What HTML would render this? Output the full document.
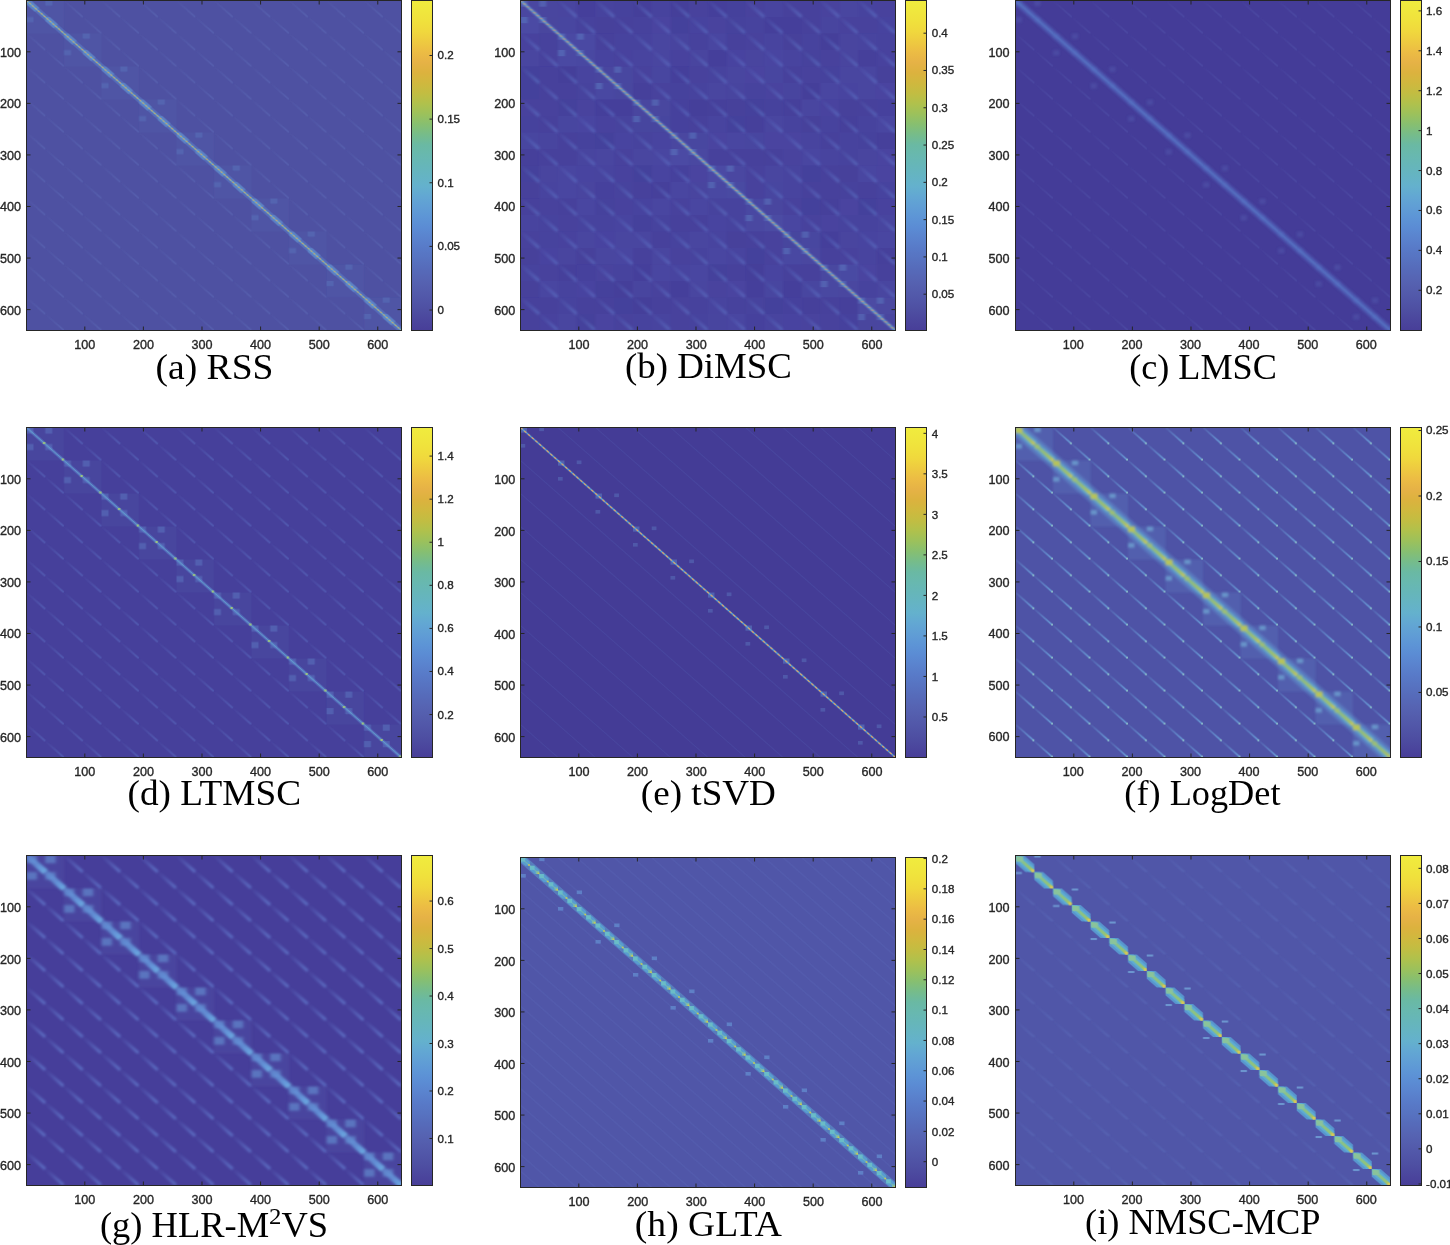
<!DOCTYPE html>
<html><head><meta charset="utf-8"><title>Affinity matrices</title><style>
html,body{margin:0;padding:0;background:#fff}
body{width:1450px;height:1245px;position:relative;overflow:hidden}
body>svg{position:absolute;overflow:visible}
svg svg{overflow:hidden}
.tk{font-family:"Liberation Sans",Arial,Helvetica,sans-serif;font-size:12.6px;fill:#262626;stroke:#262626;stroke-width:0.35px}
.cb{font-size:11.6px}
.cap{font-family:"Liberation Serif","Times New Roman",serif;font-size:35.4px;fill:#000}
</style></head><body>
<svg width="0" height="0" style="position:absolute"><defs><linearGradient id="cbg" x1="0" y1="1" x2="0" y2="0"><stop offset="0.0000" stop-color="#483e98"/><stop offset="0.0312" stop-color="#4b469d"/><stop offset="0.0625" stop-color="#4e4fa2"/><stop offset="0.0938" stop-color="#5156a8"/><stop offset="0.1250" stop-color="#545dad"/><stop offset="0.1562" stop-color="#5664b3"/><stop offset="0.1875" stop-color="#566bba"/><stop offset="0.2188" stop-color="#5773c1"/><stop offset="0.2500" stop-color="#587ac8"/><stop offset="0.2812" stop-color="#5a83ce"/><stop offset="0.3125" stop-color="#5b8cd4"/><stop offset="0.3438" stop-color="#5d95d6"/><stop offset="0.3750" stop-color="#609ed5"/><stop offset="0.4062" stop-color="#62a7d3"/><stop offset="0.4375" stop-color="#64b1cd"/><stop offset="0.4688" stop-color="#65b4c3"/><stop offset="0.5000" stop-color="#66b6b9"/><stop offset="0.5312" stop-color="#68b8af"/><stop offset="0.5625" stop-color="#6ab9a3"/><stop offset="0.5938" stop-color="#76bc8a"/><stop offset="0.6250" stop-color="#87bf70"/><stop offset="0.6562" stop-color="#9cc15b"/><stop offset="0.6875" stop-color="#b0c14c"/><stop offset="0.7188" stop-color="#c2bd42"/><stop offset="0.7500" stop-color="#d0b83e"/><stop offset="0.7812" stop-color="#dcb23e"/><stop offset="0.8125" stop-color="#e6b246"/><stop offset="0.8438" stop-color="#ecbc44"/><stop offset="0.8750" stop-color="#eeca40"/><stop offset="0.9062" stop-color="#f0d83d"/><stop offset="0.9375" stop-color="#f0e13c"/><stop offset="0.9688" stop-color="#f0e73d"/><stop offset="1.0000" stop-color="#f0ec3e"/></linearGradient></defs></svg>

<svg style="left:26px;top:0px" width="377" height="332">
<svg x="0.5" y="0.5" width="375.0" height="330.0" viewBox="0 0 640 640" preserveAspectRatio="none">
<defs><linearGradient id="sga" x1="0" y1="0" x2="32" y2="32" gradientUnits="userSpaceOnUse" spreadMethod="repeat"><stop offset="0" stop-color="#6e8cd2" stop-opacity="0.0"/><stop offset="0.85" stop-color="#6e8cd2" stop-opacity="0.25"/><stop offset="1" stop-color="#6e8cd2" stop-opacity="0.25"/></linearGradient><pattern id="spa" width="64" height="64" patternUnits="userSpaceOnUse"><path d="M-8 -8L72 72" stroke="url(#sga)" stroke-width="2.5" fill="none"/></pattern><filter id="sbla" x="-2%" y="-2%" width="104%" height="104%"><feGaussianBlur stdDeviation="1.0"/></filter><g id="bka"><rect width="64" height="64" fill="#6a8ad0" fill-opacity="0.07"/><rect x="32" y="0" width="12" height="10" fill="#6aa0dc" fill-opacity="0.22"/><rect x="0" y="32" width="12" height="10" fill="#6aa0dc" fill-opacity="0.22"/></g><g id="sba"><polygon points="0,0 8,0 22,14 14,22 0,8" fill="#6aa8dc" fill-opacity="0.35"/></g><filter id="bla" x="-2%" y="-2%" width="104%" height="104%"><feGaussianBlur stdDeviation="1.3"/></filter></defs><rect width="640" height="640" fill="#4e51a2"/><g filter="url(#sbla)"><rect width="640" height="640" fill="url(#spa)"/></g><g filter="url(#bla)"><use href="#bka" x="0" y="0"/>
<use href="#bka" x="64" y="64"/>
<use href="#bka" x="128" y="128"/>
<use href="#bka" x="192" y="192"/>
<use href="#bka" x="256" y="256"/>
<use href="#bka" x="320" y="320"/>
<use href="#bka" x="384" y="384"/>
<use href="#bka" x="448" y="448"/>
<use href="#bka" x="512" y="512"/>
<use href="#bka" x="576" y="576"/>
<path d="M0 0L640 640" stroke="#5f8cd2" stroke-opacity="0.45" stroke-width="10" fill="none"/>
<path d="M0 0L640 640" stroke="#78bebe" stroke-opacity="1" stroke-width="1.8" fill="none"/>
<use href="#sba" x="0" y="0"/>
<use href="#sba" x="32" y="32"/>
<use href="#sba" x="64" y="64"/>
<use href="#sba" x="96" y="96"/>
<use href="#sba" x="128" y="128"/>
<use href="#sba" x="160" y="160"/>
<use href="#sba" x="192" y="192"/>
<use href="#sba" x="224" y="224"/>
<use href="#sba" x="256" y="256"/>
<use href="#sba" x="288" y="288"/>
<use href="#sba" x="320" y="320"/>
<use href="#sba" x="352" y="352"/>
<use href="#sba" x="384" y="384"/>
<use href="#sba" x="416" y="416"/>
<use href="#sba" x="448" y="448"/>
<use href="#sba" x="480" y="480"/>
<use href="#sba" x="512" y="512"/>
<use href="#sba" x="544" y="544"/>
<use href="#sba" x="576" y="576"/>
<use href="#sba" x="608" y="608"/>
<path d="M0 0L640 640" stroke="#e1aa50" stroke-opacity="1" stroke-width="1.8" stroke-dasharray="3 4" fill="none"/></g>
</svg>
<rect x="0.5" y="0.5" width="375.0" height="330.0" fill="none" stroke="#262626" stroke-width="1"/>
<path d="M58.80 330.5v-4M58.80 0.5v4M0.5 51.80h4M375.5 51.80h-4M117.39 330.5v-4M117.39 0.5v4M0.5 103.37h4M375.5 103.37h-4M175.99 330.5v-4M175.99 0.5v4M0.5 154.93h4M375.5 154.93h-4M234.58 330.5v-4M234.58 0.5v4M0.5 206.49h4M375.5 206.49h-4M293.18 330.5v-4M293.18 0.5v4M0.5 258.05h4M375.5 258.05h-4M351.77 330.5v-4M351.77 0.5v4M0.5 309.62h4M375.5 309.62h-4" stroke="#262626" stroke-width="1" fill="none"/>
</svg>
<svg style="left:411.0px;top:0px" width="23" height="332">
<rect x="0.5" y="0.5" width="21.0" height="330.0" fill="url(#cbg)" stroke="#262626" stroke-width="1"/>
<path d="M21.5 310.02h-3M21.5 246.39h-3M21.5 182.75h-3M21.5 119.12h-3M21.5 55.49h-3" stroke="#262626" stroke-width="1" fill="none"/>
</svg>
<svg style="left:0;top:0" width="1450" height="1245">
<text class="tk" x="21.00" y="56.80" text-anchor="end">100</text>
<text class="tk" x="84.80" y="349.00" text-anchor="middle">100</text>
<text class="tk" x="21.00" y="108.37" text-anchor="end">200</text>
<text class="tk" x="143.39" y="349.00" text-anchor="middle">200</text>
<text class="tk" x="21.00" y="159.93" text-anchor="end">300</text>
<text class="tk" x="201.99" y="349.00" text-anchor="middle">300</text>
<text class="tk" x="21.00" y="211.49" text-anchor="end">400</text>
<text class="tk" x="260.58" y="349.00" text-anchor="middle">400</text>
<text class="tk" x="21.00" y="263.05" text-anchor="end">500</text>
<text class="tk" x="319.18" y="349.00" text-anchor="middle">500</text>
<text class="tk" x="21.00" y="314.62" text-anchor="end">600</text>
<text class="tk" x="377.77" y="349.00" text-anchor="middle">600</text>
<text class="tk cb" x="437.50" y="314.02">0</text>
<text class="tk cb" x="437.50" y="250.39">0.05</text>
<text class="tk cb" x="437.50" y="186.75">0.1</text>
<text class="tk cb" x="437.50" y="123.12">0.15</text>
<text class="tk cb" x="437.50" y="59.49">0.2</text>
<text class="cap" x="155.52" y="378.6" textLength="117.96" lengthAdjust="spacingAndGlyphs">(a) RSS</text>
</svg>
<svg style="left:520.2px;top:0px" width="377" height="332">
<svg x="0.5" y="0.5" width="375.0" height="330.0" viewBox="0 0 640 640" preserveAspectRatio="none">
<defs><linearGradient id="sgb" x1="0" y1="0" x2="32" y2="32" gradientUnits="userSpaceOnUse" spreadMethod="repeat"><stop offset="0" stop-color="#6482d2" stop-opacity="0.0"/><stop offset="0.85" stop-color="#6482d2" stop-opacity="0.45"/><stop offset="1" stop-color="#6482d2" stop-opacity="0.45"/></linearGradient><pattern id="spb" width="64" height="64" patternUnits="userSpaceOnUse"><path d="M-8 -8L72 72" stroke="url(#sgb)" stroke-width="5.5" fill="none"/></pattern><filter id="sblb" x="-2%" y="-2%" width="104%" height="104%"><feGaussianBlur stdDeviation="1.6"/></filter><g id="bkb"><rect width="64" height="64" fill="#6a8ad0" fill-opacity="0.08"/><rect x="0" y="0" width="12" height="12" fill="#6a9ad8" fill-opacity="0.3"/><rect x="32" y="0" width="12" height="12" fill="#6a9ad8" fill-opacity="0.3"/><rect x="0" y="32" width="12" height="12" fill="#6a9ad8" fill-opacity="0.3"/><rect x="32" y="32" width="12" height="12" fill="#6a9ad8" fill-opacity="0.3"/></g><filter id="blb" x="-2%" y="-2%" width="104%" height="104%"><feGaussianBlur stdDeviation="1.5"/></filter></defs><rect width="640" height="640" fill="#46409b"/><g filter="url(#sblb)"><rect width="640" height="640" fill="url(#spb)"/></g><g filter="url(#blb)"><rect x="0" y="0" width="32" height="32" fill="#5a64be" fill-opacity="0.052"/>
<rect x="32" y="0" width="32" height="32" fill="#5a64be" fill-opacity="0.024"/>
<rect x="64" y="0" width="32" height="32" fill="#5a64be" fill-opacity="0.104"/>
<rect x="96" y="0" width="32" height="32" fill="#5a64be" fill-opacity="0.012"/>
<rect x="128" y="0" width="32" height="32" fill="#5a64be" fill-opacity="0.086"/>
<rect x="160" y="0" width="32" height="32" fill="#5a64be" fill-opacity="0.059"/>
<rect x="192" y="0" width="32" height="32" fill="#5a64be" fill-opacity="0.009"/>
<rect x="224" y="0" width="32" height="32" fill="#5a64be" fill-opacity="0.081"/>
<rect x="256" y="0" width="32" height="32" fill="#5a64be" fill-opacity="0.006"/>
<rect x="288" y="0" width="32" height="32" fill="#5a64be" fill-opacity="0.069"/>
<rect x="320" y="0" width="32" height="32" fill="#5a64be" fill-opacity="0.011"/>
<rect x="352" y="0" width="32" height="32" fill="#5a64be" fill-opacity="0.015"/>
<rect x="384" y="0" width="32" height="32" fill="#5a64be" fill-opacity="0.068"/>
<rect x="416" y="0" width="32" height="32" fill="#5a64be" fill-opacity="0.132"/>
<rect x="448" y="0" width="32" height="32" fill="#5a64be" fill-opacity="0.020"/>
<rect x="480" y="0" width="32" height="32" fill="#5a64be" fill-opacity="0.036"/>
<rect x="512" y="0" width="32" height="32" fill="#5a64be" fill-opacity="0.100"/>
<rect x="544" y="0" width="32" height="32" fill="#5a64be" fill-opacity="0.152"/>
<rect x="576" y="0" width="32" height="32" fill="#5a64be" fill-opacity="0.092"/>
<rect x="608" y="0" width="32" height="32" fill="#5a64be" fill-opacity="0.063"/>
<rect x="0" y="32" width="32" height="32" fill="#5a64be" fill-opacity="0.156"/>
<rect x="32" y="32" width="32" height="32" fill="#5a64be" fill-opacity="0.007"/>
<rect x="64" y="32" width="32" height="32" fill="#5a64be" fill-opacity="0.137"/>
<rect x="96" y="32" width="32" height="32" fill="#5a64be" fill-opacity="0.046"/>
<rect x="128" y="32" width="32" height="32" fill="#5a64be" fill-opacity="0.023"/>
<rect x="160" y="32" width="32" height="32" fill="#5a64be" fill-opacity="0.019"/>
<rect x="192" y="32" width="32" height="32" fill="#5a64be" fill-opacity="0.049"/>
<rect x="224" y="32" width="32" height="32" fill="#5a64be" fill-opacity="0.131"/>
<rect x="256" y="32" width="32" height="32" fill="#5a64be" fill-opacity="0.029"/>
<rect x="288" y="32" width="32" height="32" fill="#5a64be" fill-opacity="0.093"/>
<rect x="320" y="32" width="32" height="32" fill="#5a64be" fill-opacity="0.102"/>
<rect x="352" y="32" width="32" height="32" fill="#5a64be" fill-opacity="0.060"/>
<rect x="384" y="32" width="32" height="32" fill="#5a64be" fill-opacity="0.088"/>
<rect x="416" y="32" width="32" height="32" fill="#5a64be" fill-opacity="0.010"/>
<rect x="448" y="32" width="32" height="32" fill="#5a64be" fill-opacity="0.010"/>
<rect x="480" y="32" width="32" height="32" fill="#5a64be" fill-opacity="0.033"/>
<rect x="512" y="32" width="32" height="32" fill="#5a64be" fill-opacity="0.109"/>
<rect x="544" y="32" width="32" height="32" fill="#5a64be" fill-opacity="0.068"/>
<rect x="576" y="32" width="32" height="32" fill="#5a64be" fill-opacity="0.050"/>
<rect x="608" y="32" width="32" height="32" fill="#5a64be" fill-opacity="0.094"/>
<rect x="0" y="64" width="32" height="32" fill="#5a64be" fill-opacity="0.073"/>
<rect x="32" y="64" width="32" height="32" fill="#5a64be" fill-opacity="0.048"/>
<rect x="64" y="64" width="32" height="32" fill="#5a64be" fill-opacity="0.127"/>
<rect x="96" y="64" width="32" height="32" fill="#5a64be" fill-opacity="0.112"/>
<rect x="128" y="64" width="32" height="32" fill="#5a64be" fill-opacity="0.039"/>
<rect x="160" y="64" width="32" height="32" fill="#5a64be" fill-opacity="0.092"/>
<rect x="192" y="64" width="32" height="32" fill="#5a64be" fill-opacity="0.084"/>
<rect x="224" y="64" width="32" height="32" fill="#5a64be" fill-opacity="0.140"/>
<rect x="256" y="64" width="32" height="32" fill="#5a64be" fill-opacity="0.117"/>
<rect x="288" y="64" width="32" height="32" fill="#5a64be" fill-opacity="0.046"/>
<rect x="320" y="64" width="32" height="32" fill="#5a64be" fill-opacity="0.157"/>
<rect x="352" y="64" width="32" height="32" fill="#5a64be" fill-opacity="0.019"/>
<rect x="384" y="64" width="32" height="32" fill="#5a64be" fill-opacity="0.067"/>
<rect x="416" y="64" width="32" height="32" fill="#5a64be" fill-opacity="0.121"/>
<rect x="448" y="64" width="32" height="32" fill="#5a64be" fill-opacity="0.024"/>
<rect x="480" y="64" width="32" height="32" fill="#5a64be" fill-opacity="0.078"/>
<rect x="512" y="64" width="32" height="32" fill="#5a64be" fill-opacity="0.006"/>
<rect x="544" y="64" width="32" height="32" fill="#5a64be" fill-opacity="0.107"/>
<rect x="576" y="64" width="32" height="32" fill="#5a64be" fill-opacity="0.122"/>
<rect x="608" y="64" width="32" height="32" fill="#5a64be" fill-opacity="0.092"/>
<rect x="0" y="96" width="32" height="32" fill="#5a64be" fill-opacity="0.140"/>
<rect x="32" y="96" width="32" height="32" fill="#5a64be" fill-opacity="0.050"/>
<rect x="64" y="96" width="32" height="32" fill="#5a64be" fill-opacity="0.111"/>
<rect x="96" y="96" width="32" height="32" fill="#5a64be" fill-opacity="0.095"/>
<rect x="128" y="96" width="32" height="32" fill="#5a64be" fill-opacity="0.093"/>
<rect x="160" y="96" width="32" height="32" fill="#5a64be" fill-opacity="0.073"/>
<rect x="192" y="96" width="32" height="32" fill="#5a64be" fill-opacity="0.134"/>
<rect x="224" y="96" width="32" height="32" fill="#5a64be" fill-opacity="0.151"/>
<rect x="256" y="96" width="32" height="32" fill="#5a64be" fill-opacity="0.076"/>
<rect x="288" y="96" width="32" height="32" fill="#5a64be" fill-opacity="0.106"/>
<rect x="320" y="96" width="32" height="32" fill="#5a64be" fill-opacity="0.010"/>
<rect x="352" y="96" width="32" height="32" fill="#5a64be" fill-opacity="0.112"/>
<rect x="384" y="96" width="32" height="32" fill="#5a64be" fill-opacity="0.104"/>
<rect x="416" y="96" width="32" height="32" fill="#5a64be" fill-opacity="0.159"/>
<rect x="448" y="96" width="32" height="32" fill="#5a64be" fill-opacity="0.132"/>
<rect x="480" y="96" width="32" height="32" fill="#5a64be" fill-opacity="0.046"/>
<rect x="512" y="96" width="32" height="32" fill="#5a64be" fill-opacity="0.062"/>
<rect x="544" y="96" width="32" height="32" fill="#5a64be" fill-opacity="0.107"/>
<rect x="576" y="96" width="32" height="32" fill="#5a64be" fill-opacity="0.004"/>
<rect x="608" y="96" width="32" height="32" fill="#5a64be" fill-opacity="0.074"/>
<rect x="0" y="128" width="32" height="32" fill="#5a64be" fill-opacity="0.027"/>
<rect x="32" y="128" width="32" height="32" fill="#5a64be" fill-opacity="0.019"/>
<rect x="64" y="128" width="32" height="32" fill="#5a64be" fill-opacity="0.009"/>
<rect x="96" y="128" width="32" height="32" fill="#5a64be" fill-opacity="0.123"/>
<rect x="128" y="128" width="32" height="32" fill="#5a64be" fill-opacity="0.021"/>
<rect x="160" y="128" width="32" height="32" fill="#5a64be" fill-opacity="0.040"/>
<rect x="192" y="128" width="32" height="32" fill="#5a64be" fill-opacity="0.063"/>
<rect x="224" y="128" width="32" height="32" fill="#5a64be" fill-opacity="0.139"/>
<rect x="256" y="128" width="32" height="32" fill="#5a64be" fill-opacity="0.013"/>
<rect x="288" y="128" width="32" height="32" fill="#5a64be" fill-opacity="0.072"/>
<rect x="320" y="128" width="32" height="32" fill="#5a64be" fill-opacity="0.088"/>
<rect x="352" y="128" width="32" height="32" fill="#5a64be" fill-opacity="0.141"/>
<rect x="384" y="128" width="32" height="32" fill="#5a64be" fill-opacity="0.131"/>
<rect x="416" y="128" width="32" height="32" fill="#5a64be" fill-opacity="0.138"/>
<rect x="448" y="128" width="32" height="32" fill="#5a64be" fill-opacity="0.045"/>
<rect x="480" y="128" width="32" height="32" fill="#5a64be" fill-opacity="0.066"/>
<rect x="512" y="128" width="32" height="32" fill="#5a64be" fill-opacity="0.057"/>
<rect x="544" y="128" width="32" height="32" fill="#5a64be" fill-opacity="0.141"/>
<rect x="576" y="128" width="32" height="32" fill="#5a64be" fill-opacity="0.153"/>
<rect x="608" y="128" width="32" height="32" fill="#5a64be" fill-opacity="0.024"/>
<rect x="0" y="160" width="32" height="32" fill="#5a64be" fill-opacity="0.028"/>
<rect x="32" y="160" width="32" height="32" fill="#5a64be" fill-opacity="0.037"/>
<rect x="64" y="160" width="32" height="32" fill="#5a64be" fill-opacity="0.037"/>
<rect x="96" y="160" width="32" height="32" fill="#5a64be" fill-opacity="0.078"/>
<rect x="128" y="160" width="32" height="32" fill="#5a64be" fill-opacity="0.094"/>
<rect x="160" y="160" width="32" height="32" fill="#5a64be" fill-opacity="0.042"/>
<rect x="192" y="160" width="32" height="32" fill="#5a64be" fill-opacity="0.001"/>
<rect x="224" y="160" width="32" height="32" fill="#5a64be" fill-opacity="0.067"/>
<rect x="256" y="160" width="32" height="32" fill="#5a64be" fill-opacity="0.059"/>
<rect x="288" y="160" width="32" height="32" fill="#5a64be" fill-opacity="0.091"/>
<rect x="320" y="160" width="32" height="32" fill="#5a64be" fill-opacity="0.152"/>
<rect x="352" y="160" width="32" height="32" fill="#5a64be" fill-opacity="0.110"/>
<rect x="384" y="160" width="32" height="32" fill="#5a64be" fill-opacity="0.082"/>
<rect x="416" y="160" width="32" height="32" fill="#5a64be" fill-opacity="0.099"/>
<rect x="448" y="160" width="32" height="32" fill="#5a64be" fill-opacity="0.108"/>
<rect x="480" y="160" width="32" height="32" fill="#5a64be" fill-opacity="0.009"/>
<rect x="512" y="160" width="32" height="32" fill="#5a64be" fill-opacity="0.144"/>
<rect x="544" y="160" width="32" height="32" fill="#5a64be" fill-opacity="0.125"/>
<rect x="576" y="160" width="32" height="32" fill="#5a64be" fill-opacity="0.140"/>
<rect x="608" y="160" width="32" height="32" fill="#5a64be" fill-opacity="0.128"/>
<rect x="0" y="192" width="32" height="32" fill="#5a64be" fill-opacity="0.063"/>
<rect x="32" y="192" width="32" height="32" fill="#5a64be" fill-opacity="0.064"/>
<rect x="64" y="192" width="32" height="32" fill="#5a64be" fill-opacity="0.017"/>
<rect x="96" y="192" width="32" height="32" fill="#5a64be" fill-opacity="0.101"/>
<rect x="128" y="192" width="32" height="32" fill="#5a64be" fill-opacity="0.010"/>
<rect x="160" y="192" width="32" height="32" fill="#5a64be" fill-opacity="0.011"/>
<rect x="192" y="192" width="32" height="32" fill="#5a64be" fill-opacity="0.033"/>
<rect x="224" y="192" width="32" height="32" fill="#5a64be" fill-opacity="0.026"/>
<rect x="256" y="192" width="32" height="32" fill="#5a64be" fill-opacity="0.054"/>
<rect x="288" y="192" width="32" height="32" fill="#5a64be" fill-opacity="0.008"/>
<rect x="320" y="192" width="32" height="32" fill="#5a64be" fill-opacity="0.000"/>
<rect x="352" y="192" width="32" height="32" fill="#5a64be" fill-opacity="0.024"/>
<rect x="384" y="192" width="32" height="32" fill="#5a64be" fill-opacity="0.016"/>
<rect x="416" y="192" width="32" height="32" fill="#5a64be" fill-opacity="0.058"/>
<rect x="448" y="192" width="32" height="32" fill="#5a64be" fill-opacity="0.004"/>
<rect x="480" y="192" width="32" height="32" fill="#5a64be" fill-opacity="0.140"/>
<rect x="512" y="192" width="32" height="32" fill="#5a64be" fill-opacity="0.098"/>
<rect x="544" y="192" width="32" height="32" fill="#5a64be" fill-opacity="0.024"/>
<rect x="576" y="192" width="32" height="32" fill="#5a64be" fill-opacity="0.040"/>
<rect x="608" y="192" width="32" height="32" fill="#5a64be" fill-opacity="0.056"/>
<rect x="0" y="224" width="32" height="32" fill="#5a64be" fill-opacity="0.058"/>
<rect x="32" y="224" width="32" height="32" fill="#5a64be" fill-opacity="0.020"/>
<rect x="64" y="224" width="32" height="32" fill="#5a64be" fill-opacity="0.136"/>
<rect x="96" y="224" width="32" height="32" fill="#5a64be" fill-opacity="0.159"/>
<rect x="128" y="224" width="32" height="32" fill="#5a64be" fill-opacity="0.075"/>
<rect x="160" y="224" width="32" height="32" fill="#5a64be" fill-opacity="0.077"/>
<rect x="192" y="224" width="32" height="32" fill="#5a64be" fill-opacity="0.014"/>
<rect x="224" y="224" width="32" height="32" fill="#5a64be" fill-opacity="0.016"/>
<rect x="256" y="224" width="32" height="32" fill="#5a64be" fill-opacity="0.055"/>
<rect x="288" y="224" width="32" height="32" fill="#5a64be" fill-opacity="0.042"/>
<rect x="320" y="224" width="32" height="32" fill="#5a64be" fill-opacity="0.133"/>
<rect x="352" y="224" width="32" height="32" fill="#5a64be" fill-opacity="0.026"/>
<rect x="384" y="224" width="32" height="32" fill="#5a64be" fill-opacity="0.004"/>
<rect x="416" y="224" width="32" height="32" fill="#5a64be" fill-opacity="0.152"/>
<rect x="448" y="224" width="32" height="32" fill="#5a64be" fill-opacity="0.085"/>
<rect x="480" y="224" width="32" height="32" fill="#5a64be" fill-opacity="0.023"/>
<rect x="512" y="224" width="32" height="32" fill="#5a64be" fill-opacity="0.087"/>
<rect x="544" y="224" width="32" height="32" fill="#5a64be" fill-opacity="0.004"/>
<rect x="576" y="224" width="32" height="32" fill="#5a64be" fill-opacity="0.084"/>
<rect x="608" y="224" width="32" height="32" fill="#5a64be" fill-opacity="0.157"/>
<rect x="0" y="256" width="32" height="32" fill="#5a64be" fill-opacity="0.138"/>
<rect x="32" y="256" width="32" height="32" fill="#5a64be" fill-opacity="0.111"/>
<rect x="64" y="256" width="32" height="32" fill="#5a64be" fill-opacity="0.042"/>
<rect x="96" y="256" width="32" height="32" fill="#5a64be" fill-opacity="0.059"/>
<rect x="128" y="256" width="32" height="32" fill="#5a64be" fill-opacity="0.027"/>
<rect x="160" y="256" width="32" height="32" fill="#5a64be" fill-opacity="0.124"/>
<rect x="192" y="256" width="32" height="32" fill="#5a64be" fill-opacity="0.085"/>
<rect x="224" y="256" width="32" height="32" fill="#5a64be" fill-opacity="0.125"/>
<rect x="256" y="256" width="32" height="32" fill="#5a64be" fill-opacity="0.053"/>
<rect x="288" y="256" width="32" height="32" fill="#5a64be" fill-opacity="0.036"/>
<rect x="320" y="256" width="32" height="32" fill="#5a64be" fill-opacity="0.130"/>
<rect x="352" y="256" width="32" height="32" fill="#5a64be" fill-opacity="0.158"/>
<rect x="384" y="256" width="32" height="32" fill="#5a64be" fill-opacity="0.136"/>
<rect x="416" y="256" width="32" height="32" fill="#5a64be" fill-opacity="0.129"/>
<rect x="448" y="256" width="32" height="32" fill="#5a64be" fill-opacity="0.131"/>
<rect x="480" y="256" width="32" height="32" fill="#5a64be" fill-opacity="0.118"/>
<rect x="512" y="256" width="32" height="32" fill="#5a64be" fill-opacity="0.036"/>
<rect x="544" y="256" width="32" height="32" fill="#5a64be" fill-opacity="0.083"/>
<rect x="576" y="256" width="32" height="32" fill="#5a64be" fill-opacity="0.057"/>
<rect x="608" y="256" width="32" height="32" fill="#5a64be" fill-opacity="0.005"/>
<rect x="0" y="288" width="32" height="32" fill="#5a64be" fill-opacity="0.004"/>
<rect x="32" y="288" width="32" height="32" fill="#5a64be" fill-opacity="0.045"/>
<rect x="64" y="288" width="32" height="32" fill="#5a64be" fill-opacity="0.041"/>
<rect x="96" y="288" width="32" height="32" fill="#5a64be" fill-opacity="0.111"/>
<rect x="128" y="288" width="32" height="32" fill="#5a64be" fill-opacity="0.153"/>
<rect x="160" y="288" width="32" height="32" fill="#5a64be" fill-opacity="0.072"/>
<rect x="192" y="288" width="32" height="32" fill="#5a64be" fill-opacity="0.150"/>
<rect x="224" y="288" width="32" height="32" fill="#5a64be" fill-opacity="0.158"/>
<rect x="256" y="288" width="32" height="32" fill="#5a64be" fill-opacity="0.153"/>
<rect x="288" y="288" width="32" height="32" fill="#5a64be" fill-opacity="0.058"/>
<rect x="320" y="288" width="32" height="32" fill="#5a64be" fill-opacity="0.035"/>
<rect x="352" y="288" width="32" height="32" fill="#5a64be" fill-opacity="0.036"/>
<rect x="384" y="288" width="32" height="32" fill="#5a64be" fill-opacity="0.031"/>
<rect x="416" y="288" width="32" height="32" fill="#5a64be" fill-opacity="0.033"/>
<rect x="448" y="288" width="32" height="32" fill="#5a64be" fill-opacity="0.100"/>
<rect x="480" y="288" width="32" height="32" fill="#5a64be" fill-opacity="0.144"/>
<rect x="512" y="288" width="32" height="32" fill="#5a64be" fill-opacity="0.134"/>
<rect x="544" y="288" width="32" height="32" fill="#5a64be" fill-opacity="0.077"/>
<rect x="576" y="288" width="32" height="32" fill="#5a64be" fill-opacity="0.104"/>
<rect x="608" y="288" width="32" height="32" fill="#5a64be" fill-opacity="0.128"/>
<rect x="0" y="320" width="32" height="32" fill="#5a64be" fill-opacity="0.014"/>
<rect x="32" y="320" width="32" height="32" fill="#5a64be" fill-opacity="0.106"/>
<rect x="64" y="320" width="32" height="32" fill="#5a64be" fill-opacity="0.146"/>
<rect x="96" y="320" width="32" height="32" fill="#5a64be" fill-opacity="0.125"/>
<rect x="128" y="320" width="32" height="32" fill="#5a64be" fill-opacity="0.120"/>
<rect x="160" y="320" width="32" height="32" fill="#5a64be" fill-opacity="0.076"/>
<rect x="192" y="320" width="32" height="32" fill="#5a64be" fill-opacity="0.029"/>
<rect x="224" y="320" width="32" height="32" fill="#5a64be" fill-opacity="0.126"/>
<rect x="256" y="320" width="32" height="32" fill="#5a64be" fill-opacity="0.053"/>
<rect x="288" y="320" width="32" height="32" fill="#5a64be" fill-opacity="0.128"/>
<rect x="320" y="320" width="32" height="32" fill="#5a64be" fill-opacity="0.155"/>
<rect x="352" y="320" width="32" height="32" fill="#5a64be" fill-opacity="0.063"/>
<rect x="384" y="320" width="32" height="32" fill="#5a64be" fill-opacity="0.064"/>
<rect x="416" y="320" width="32" height="32" fill="#5a64be" fill-opacity="0.151"/>
<rect x="448" y="320" width="32" height="32" fill="#5a64be" fill-opacity="0.116"/>
<rect x="480" y="320" width="32" height="32" fill="#5a64be" fill-opacity="0.027"/>
<rect x="512" y="320" width="32" height="32" fill="#5a64be" fill-opacity="0.020"/>
<rect x="544" y="320" width="32" height="32" fill="#5a64be" fill-opacity="0.024"/>
<rect x="576" y="320" width="32" height="32" fill="#5a64be" fill-opacity="0.145"/>
<rect x="608" y="320" width="32" height="32" fill="#5a64be" fill-opacity="0.129"/>
<rect x="0" y="352" width="32" height="32" fill="#5a64be" fill-opacity="0.023"/>
<rect x="32" y="352" width="32" height="32" fill="#5a64be" fill-opacity="0.132"/>
<rect x="64" y="352" width="32" height="32" fill="#5a64be" fill-opacity="0.157"/>
<rect x="96" y="352" width="32" height="32" fill="#5a64be" fill-opacity="0.105"/>
<rect x="128" y="352" width="32" height="32" fill="#5a64be" fill-opacity="0.056"/>
<rect x="160" y="352" width="32" height="32" fill="#5a64be" fill-opacity="0.088"/>
<rect x="192" y="352" width="32" height="32" fill="#5a64be" fill-opacity="0.021"/>
<rect x="224" y="352" width="32" height="32" fill="#5a64be" fill-opacity="0.002"/>
<rect x="256" y="352" width="32" height="32" fill="#5a64be" fill-opacity="0.155"/>
<rect x="288" y="352" width="32" height="32" fill="#5a64be" fill-opacity="0.104"/>
<rect x="320" y="352" width="32" height="32" fill="#5a64be" fill-opacity="0.084"/>
<rect x="352" y="352" width="32" height="32" fill="#5a64be" fill-opacity="0.149"/>
<rect x="384" y="352" width="32" height="32" fill="#5a64be" fill-opacity="0.069"/>
<rect x="416" y="352" width="32" height="32" fill="#5a64be" fill-opacity="0.139"/>
<rect x="448" y="352" width="32" height="32" fill="#5a64be" fill-opacity="0.132"/>
<rect x="480" y="352" width="32" height="32" fill="#5a64be" fill-opacity="0.034"/>
<rect x="512" y="352" width="32" height="32" fill="#5a64be" fill-opacity="0.040"/>
<rect x="544" y="352" width="32" height="32" fill="#5a64be" fill-opacity="0.047"/>
<rect x="576" y="352" width="32" height="32" fill="#5a64be" fill-opacity="0.038"/>
<rect x="608" y="352" width="32" height="32" fill="#5a64be" fill-opacity="0.094"/>
<rect x="0" y="384" width="32" height="32" fill="#5a64be" fill-opacity="0.041"/>
<rect x="32" y="384" width="32" height="32" fill="#5a64be" fill-opacity="0.067"/>
<rect x="64" y="384" width="32" height="32" fill="#5a64be" fill-opacity="0.021"/>
<rect x="96" y="384" width="32" height="32" fill="#5a64be" fill-opacity="0.146"/>
<rect x="128" y="384" width="32" height="32" fill="#5a64be" fill-opacity="0.057"/>
<rect x="160" y="384" width="32" height="32" fill="#5a64be" fill-opacity="0.073"/>
<rect x="192" y="384" width="32" height="32" fill="#5a64be" fill-opacity="0.093"/>
<rect x="224" y="384" width="32" height="32" fill="#5a64be" fill-opacity="0.145"/>
<rect x="256" y="384" width="32" height="32" fill="#5a64be" fill-opacity="0.067"/>
<rect x="288" y="384" width="32" height="32" fill="#5a64be" fill-opacity="0.147"/>
<rect x="320" y="384" width="32" height="32" fill="#5a64be" fill-opacity="0.080"/>
<rect x="352" y="384" width="32" height="32" fill="#5a64be" fill-opacity="0.085"/>
<rect x="384" y="384" width="32" height="32" fill="#5a64be" fill-opacity="0.084"/>
<rect x="416" y="384" width="32" height="32" fill="#5a64be" fill-opacity="0.003"/>
<rect x="448" y="384" width="32" height="32" fill="#5a64be" fill-opacity="0.070"/>
<rect x="480" y="384" width="32" height="32" fill="#5a64be" fill-opacity="0.029"/>
<rect x="512" y="384" width="32" height="32" fill="#5a64be" fill-opacity="0.001"/>
<rect x="544" y="384" width="32" height="32" fill="#5a64be" fill-opacity="0.128"/>
<rect x="576" y="384" width="32" height="32" fill="#5a64be" fill-opacity="0.028"/>
<rect x="608" y="384" width="32" height="32" fill="#5a64be" fill-opacity="0.076"/>
<rect x="0" y="416" width="32" height="32" fill="#5a64be" fill-opacity="0.116"/>
<rect x="32" y="416" width="32" height="32" fill="#5a64be" fill-opacity="0.089"/>
<rect x="64" y="416" width="32" height="32" fill="#5a64be" fill-opacity="0.052"/>
<rect x="96" y="416" width="32" height="32" fill="#5a64be" fill-opacity="0.083"/>
<rect x="128" y="416" width="32" height="32" fill="#5a64be" fill-opacity="0.089"/>
<rect x="160" y="416" width="32" height="32" fill="#5a64be" fill-opacity="0.125"/>
<rect x="192" y="416" width="32" height="32" fill="#5a64be" fill-opacity="0.017"/>
<rect x="224" y="416" width="32" height="32" fill="#5a64be" fill-opacity="0.090"/>
<rect x="256" y="416" width="32" height="32" fill="#5a64be" fill-opacity="0.040"/>
<rect x="288" y="416" width="32" height="32" fill="#5a64be" fill-opacity="0.044"/>
<rect x="320" y="416" width="32" height="32" fill="#5a64be" fill-opacity="0.124"/>
<rect x="352" y="416" width="32" height="32" fill="#5a64be" fill-opacity="0.081"/>
<rect x="384" y="416" width="32" height="32" fill="#5a64be" fill-opacity="0.090"/>
<rect x="416" y="416" width="32" height="32" fill="#5a64be" fill-opacity="0.122"/>
<rect x="448" y="416" width="32" height="32" fill="#5a64be" fill-opacity="0.146"/>
<rect x="480" y="416" width="32" height="32" fill="#5a64be" fill-opacity="0.071"/>
<rect x="512" y="416" width="32" height="32" fill="#5a64be" fill-opacity="0.098"/>
<rect x="544" y="416" width="32" height="32" fill="#5a64be" fill-opacity="0.081"/>
<rect x="576" y="416" width="32" height="32" fill="#5a64be" fill-opacity="0.082"/>
<rect x="608" y="416" width="32" height="32" fill="#5a64be" fill-opacity="0.111"/>
<rect x="0" y="448" width="32" height="32" fill="#5a64be" fill-opacity="0.072"/>
<rect x="32" y="448" width="32" height="32" fill="#5a64be" fill-opacity="0.085"/>
<rect x="64" y="448" width="32" height="32" fill="#5a64be" fill-opacity="0.076"/>
<rect x="96" y="448" width="32" height="32" fill="#5a64be" fill-opacity="0.151"/>
<rect x="128" y="448" width="32" height="32" fill="#5a64be" fill-opacity="0.112"/>
<rect x="160" y="448" width="32" height="32" fill="#5a64be" fill-opacity="0.140"/>
<rect x="192" y="448" width="32" height="32" fill="#5a64be" fill-opacity="0.151"/>
<rect x="224" y="448" width="32" height="32" fill="#5a64be" fill-opacity="0.042"/>
<rect x="256" y="448" width="32" height="32" fill="#5a64be" fill-opacity="0.090"/>
<rect x="288" y="448" width="32" height="32" fill="#5a64be" fill-opacity="0.151"/>
<rect x="320" y="448" width="32" height="32" fill="#5a64be" fill-opacity="0.134"/>
<rect x="352" y="448" width="32" height="32" fill="#5a64be" fill-opacity="0.022"/>
<rect x="384" y="448" width="32" height="32" fill="#5a64be" fill-opacity="0.019"/>
<rect x="416" y="448" width="32" height="32" fill="#5a64be" fill-opacity="0.071"/>
<rect x="448" y="448" width="32" height="32" fill="#5a64be" fill-opacity="0.012"/>
<rect x="480" y="448" width="32" height="32" fill="#5a64be" fill-opacity="0.039"/>
<rect x="512" y="448" width="32" height="32" fill="#5a64be" fill-opacity="0.012"/>
<rect x="544" y="448" width="32" height="32" fill="#5a64be" fill-opacity="0.107"/>
<rect x="576" y="448" width="32" height="32" fill="#5a64be" fill-opacity="0.125"/>
<rect x="608" y="448" width="32" height="32" fill="#5a64be" fill-opacity="0.144"/>
<rect x="0" y="480" width="32" height="32" fill="#5a64be" fill-opacity="0.025"/>
<rect x="32" y="480" width="32" height="32" fill="#5a64be" fill-opacity="0.115"/>
<rect x="64" y="480" width="32" height="32" fill="#5a64be" fill-opacity="0.106"/>
<rect x="96" y="480" width="32" height="32" fill="#5a64be" fill-opacity="0.023"/>
<rect x="128" y="480" width="32" height="32" fill="#5a64be" fill-opacity="0.141"/>
<rect x="160" y="480" width="32" height="32" fill="#5a64be" fill-opacity="0.155"/>
<rect x="192" y="480" width="32" height="32" fill="#5a64be" fill-opacity="0.035"/>
<rect x="224" y="480" width="32" height="32" fill="#5a64be" fill-opacity="0.152"/>
<rect x="256" y="480" width="32" height="32" fill="#5a64be" fill-opacity="0.064"/>
<rect x="288" y="480" width="32" height="32" fill="#5a64be" fill-opacity="0.078"/>
<rect x="320" y="480" width="32" height="32" fill="#5a64be" fill-opacity="0.158"/>
<rect x="352" y="480" width="32" height="32" fill="#5a64be" fill-opacity="0.133"/>
<rect x="384" y="480" width="32" height="32" fill="#5a64be" fill-opacity="0.026"/>
<rect x="416" y="480" width="32" height="32" fill="#5a64be" fill-opacity="0.069"/>
<rect x="448" y="480" width="32" height="32" fill="#5a64be" fill-opacity="0.082"/>
<rect x="480" y="480" width="32" height="32" fill="#5a64be" fill-opacity="0.054"/>
<rect x="512" y="480" width="32" height="32" fill="#5a64be" fill-opacity="0.031"/>
<rect x="544" y="480" width="32" height="32" fill="#5a64be" fill-opacity="0.051"/>
<rect x="576" y="480" width="32" height="32" fill="#5a64be" fill-opacity="0.116"/>
<rect x="608" y="480" width="32" height="32" fill="#5a64be" fill-opacity="0.003"/>
<rect x="0" y="512" width="32" height="32" fill="#5a64be" fill-opacity="0.089"/>
<rect x="32" y="512" width="32" height="32" fill="#5a64be" fill-opacity="0.070"/>
<rect x="64" y="512" width="32" height="32" fill="#5a64be" fill-opacity="0.003"/>
<rect x="96" y="512" width="32" height="32" fill="#5a64be" fill-opacity="0.053"/>
<rect x="128" y="512" width="32" height="32" fill="#5a64be" fill-opacity="0.100"/>
<rect x="160" y="512" width="32" height="32" fill="#5a64be" fill-opacity="0.082"/>
<rect x="192" y="512" width="32" height="32" fill="#5a64be" fill-opacity="0.010"/>
<rect x="224" y="512" width="32" height="32" fill="#5a64be" fill-opacity="0.158"/>
<rect x="256" y="512" width="32" height="32" fill="#5a64be" fill-opacity="0.126"/>
<rect x="288" y="512" width="32" height="32" fill="#5a64be" fill-opacity="0.155"/>
<rect x="320" y="512" width="32" height="32" fill="#5a64be" fill-opacity="0.017"/>
<rect x="352" y="512" width="32" height="32" fill="#5a64be" fill-opacity="0.042"/>
<rect x="384" y="512" width="32" height="32" fill="#5a64be" fill-opacity="0.006"/>
<rect x="416" y="512" width="32" height="32" fill="#5a64be" fill-opacity="0.125"/>
<rect x="448" y="512" width="32" height="32" fill="#5a64be" fill-opacity="0.043"/>
<rect x="480" y="512" width="32" height="32" fill="#5a64be" fill-opacity="0.021"/>
<rect x="512" y="512" width="32" height="32" fill="#5a64be" fill-opacity="0.068"/>
<rect x="544" y="512" width="32" height="32" fill="#5a64be" fill-opacity="0.146"/>
<rect x="576" y="512" width="32" height="32" fill="#5a64be" fill-opacity="0.131"/>
<rect x="608" y="512" width="32" height="32" fill="#5a64be" fill-opacity="0.041"/>
<rect x="0" y="544" width="32" height="32" fill="#5a64be" fill-opacity="0.024"/>
<rect x="32" y="544" width="32" height="32" fill="#5a64be" fill-opacity="0.147"/>
<rect x="64" y="544" width="32" height="32" fill="#5a64be" fill-opacity="0.091"/>
<rect x="96" y="544" width="32" height="32" fill="#5a64be" fill-opacity="0.112"/>
<rect x="128" y="544" width="32" height="32" fill="#5a64be" fill-opacity="0.014"/>
<rect x="160" y="544" width="32" height="32" fill="#5a64be" fill-opacity="0.009"/>
<rect x="192" y="544" width="32" height="32" fill="#5a64be" fill-opacity="0.110"/>
<rect x="224" y="544" width="32" height="32" fill="#5a64be" fill-opacity="0.068"/>
<rect x="256" y="544" width="32" height="32" fill="#5a64be" fill-opacity="0.012"/>
<rect x="288" y="544" width="32" height="32" fill="#5a64be" fill-opacity="0.150"/>
<rect x="320" y="544" width="32" height="32" fill="#5a64be" fill-opacity="0.102"/>
<rect x="352" y="544" width="32" height="32" fill="#5a64be" fill-opacity="0.128"/>
<rect x="384" y="544" width="32" height="32" fill="#5a64be" fill-opacity="0.013"/>
<rect x="416" y="544" width="32" height="32" fill="#5a64be" fill-opacity="0.137"/>
<rect x="448" y="544" width="32" height="32" fill="#5a64be" fill-opacity="0.011"/>
<rect x="480" y="544" width="32" height="32" fill="#5a64be" fill-opacity="0.138"/>
<rect x="512" y="544" width="32" height="32" fill="#5a64be" fill-opacity="0.073"/>
<rect x="544" y="544" width="32" height="32" fill="#5a64be" fill-opacity="0.054"/>
<rect x="576" y="544" width="32" height="32" fill="#5a64be" fill-opacity="0.088"/>
<rect x="608" y="544" width="32" height="32" fill="#5a64be" fill-opacity="0.148"/>
<rect x="0" y="576" width="32" height="32" fill="#5a64be" fill-opacity="0.043"/>
<rect x="32" y="576" width="32" height="32" fill="#5a64be" fill-opacity="0.021"/>
<rect x="64" y="576" width="32" height="32" fill="#5a64be" fill-opacity="0.084"/>
<rect x="96" y="576" width="32" height="32" fill="#5a64be" fill-opacity="0.038"/>
<rect x="128" y="576" width="32" height="32" fill="#5a64be" fill-opacity="0.018"/>
<rect x="160" y="576" width="32" height="32" fill="#5a64be" fill-opacity="0.026"/>
<rect x="192" y="576" width="32" height="32" fill="#5a64be" fill-opacity="0.008"/>
<rect x="224" y="576" width="32" height="32" fill="#5a64be" fill-opacity="0.032"/>
<rect x="256" y="576" width="32" height="32" fill="#5a64be" fill-opacity="0.050"/>
<rect x="288" y="576" width="32" height="32" fill="#5a64be" fill-opacity="0.049"/>
<rect x="320" y="576" width="32" height="32" fill="#5a64be" fill-opacity="0.122"/>
<rect x="352" y="576" width="32" height="32" fill="#5a64be" fill-opacity="0.046"/>
<rect x="384" y="576" width="32" height="32" fill="#5a64be" fill-opacity="0.080"/>
<rect x="416" y="576" width="32" height="32" fill="#5a64be" fill-opacity="0.028"/>
<rect x="448" y="576" width="32" height="32" fill="#5a64be" fill-opacity="0.056"/>
<rect x="480" y="576" width="32" height="32" fill="#5a64be" fill-opacity="0.003"/>
<rect x="512" y="576" width="32" height="32" fill="#5a64be" fill-opacity="0.040"/>
<rect x="544" y="576" width="32" height="32" fill="#5a64be" fill-opacity="0.002"/>
<rect x="576" y="576" width="32" height="32" fill="#5a64be" fill-opacity="0.117"/>
<rect x="608" y="576" width="32" height="32" fill="#5a64be" fill-opacity="0.088"/>
<rect x="0" y="608" width="32" height="32" fill="#5a64be" fill-opacity="0.030"/>
<rect x="32" y="608" width="32" height="32" fill="#5a64be" fill-opacity="0.076"/>
<rect x="64" y="608" width="32" height="32" fill="#5a64be" fill-opacity="0.150"/>
<rect x="96" y="608" width="32" height="32" fill="#5a64be" fill-opacity="0.017"/>
<rect x="128" y="608" width="32" height="32" fill="#5a64be" fill-opacity="0.131"/>
<rect x="160" y="608" width="32" height="32" fill="#5a64be" fill-opacity="0.069"/>
<rect x="192" y="608" width="32" height="32" fill="#5a64be" fill-opacity="0.079"/>
<rect x="224" y="608" width="32" height="32" fill="#5a64be" fill-opacity="0.134"/>
<rect x="256" y="608" width="32" height="32" fill="#5a64be" fill-opacity="0.063"/>
<rect x="288" y="608" width="32" height="32" fill="#5a64be" fill-opacity="0.081"/>
<rect x="320" y="608" width="32" height="32" fill="#5a64be" fill-opacity="0.110"/>
<rect x="352" y="608" width="32" height="32" fill="#5a64be" fill-opacity="0.157"/>
<rect x="384" y="608" width="32" height="32" fill="#5a64be" fill-opacity="0.055"/>
<rect x="416" y="608" width="32" height="32" fill="#5a64be" fill-opacity="0.133"/>
<rect x="448" y="608" width="32" height="32" fill="#5a64be" fill-opacity="0.113"/>
<rect x="480" y="608" width="32" height="32" fill="#5a64be" fill-opacity="0.102"/>
<rect x="512" y="608" width="32" height="32" fill="#5a64be" fill-opacity="0.065"/>
<rect x="544" y="608" width="32" height="32" fill="#5a64be" fill-opacity="0.056"/>
<rect x="576" y="608" width="32" height="32" fill="#5a64be" fill-opacity="0.009"/>
<rect x="608" y="608" width="32" height="32" fill="#5a64be" fill-opacity="0.021"/>
<use href="#bkb" x="0" y="0"/>
<use href="#bkb" x="64" y="64"/>
<use href="#bkb" x="128" y="128"/>
<use href="#bkb" x="192" y="192"/>
<use href="#bkb" x="256" y="256"/>
<use href="#bkb" x="320" y="320"/>
<use href="#bkb" x="384" y="384"/>
<use href="#bkb" x="448" y="448"/>
<use href="#bkb" x="512" y="512"/>
<use href="#bkb" x="576" y="576"/>
<path d="M0 0L640 640" stroke="#5f8cd2" stroke-opacity="0.5" stroke-width="6" fill="none"/>
<path d="M0 0L640 640" stroke="#78bebe" stroke-opacity="1" stroke-width="2" fill="none"/>
<path d="M0 0L640 640" stroke="#e1aa50" stroke-opacity="1" stroke-width="2" stroke-dasharray="3 5" fill="none"/></g>
</svg>
<rect x="0.5" y="0.5" width="375.0" height="330.0" fill="none" stroke="#262626" stroke-width="1"/>
<path d="M58.80 330.5v-4M58.80 0.5v4M0.5 51.80h4M375.5 51.80h-4M117.39 330.5v-4M117.39 0.5v4M0.5 103.37h4M375.5 103.37h-4M175.99 330.5v-4M175.99 0.5v4M0.5 154.93h4M375.5 154.93h-4M234.58 330.5v-4M234.58 0.5v4M0.5 206.49h4M375.5 206.49h-4M293.18 330.5v-4M293.18 0.5v4M0.5 258.05h4M375.5 258.05h-4M351.77 330.5v-4M351.77 0.5v4M0.5 309.62h4M375.5 309.62h-4" stroke="#262626" stroke-width="1" fill="none"/>
</svg>
<svg style="left:905.2px;top:0px" width="23" height="332">
<rect x="0.5" y="0.5" width="21.0" height="330.0" fill="url(#cbg)" stroke="#262626" stroke-width="1"/>
<path d="M21.5 294.20h-3M21.5 256.92h-3M21.5 219.63h-3M21.5 182.34h-3M21.5 145.05h-3M21.5 107.76h-3M21.5 70.47h-3M21.5 33.19h-3" stroke="#262626" stroke-width="1" fill="none"/>
</svg>
<svg style="left:0;top:0" width="1450" height="1245">
<text class="tk" x="515.20" y="56.80" text-anchor="end">100</text>
<text class="tk" x="579.00" y="349.00" text-anchor="middle">100</text>
<text class="tk" x="515.20" y="108.37" text-anchor="end">200</text>
<text class="tk" x="637.59" y="349.00" text-anchor="middle">200</text>
<text class="tk" x="515.20" y="159.93" text-anchor="end">300</text>
<text class="tk" x="696.19" y="349.00" text-anchor="middle">300</text>
<text class="tk" x="515.20" y="211.49" text-anchor="end">400</text>
<text class="tk" x="754.78" y="349.00" text-anchor="middle">400</text>
<text class="tk" x="515.20" y="263.05" text-anchor="end">500</text>
<text class="tk" x="813.38" y="349.00" text-anchor="middle">500</text>
<text class="tk" x="515.20" y="314.62" text-anchor="end">600</text>
<text class="tk" x="871.97" y="349.00" text-anchor="middle">600</text>
<text class="tk cb" x="931.70" y="298.20">0.05</text>
<text class="tk cb" x="931.70" y="260.92">0.1</text>
<text class="tk cb" x="931.70" y="223.63">0.15</text>
<text class="tk cb" x="931.70" y="186.34">0.2</text>
<text class="tk cb" x="931.70" y="149.05">0.25</text>
<text class="tk cb" x="931.70" y="111.76">0.3</text>
<text class="tk cb" x="931.70" y="74.47">0.35</text>
<text class="tk cb" x="931.70" y="37.19">0.4</text>
<text class="cap" x="625.10" y="377.9" textLength="166.8" lengthAdjust="spacingAndGlyphs">(b) DiMSC</text>
</svg>
<svg style="left:1014.5px;top:0px" width="377" height="332">
<svg x="0.5" y="0.5" width="375.0" height="330.0" viewBox="0 0 640 640" preserveAspectRatio="none">
<defs><linearGradient id="sgc" x1="0" y1="0" x2="32" y2="32" gradientUnits="userSpaceOnUse" spreadMethod="repeat"><stop offset="0" stop-color="#6478c8" stop-opacity="0.0"/><stop offset="0.85" stop-color="#6478c8" stop-opacity="0.22"/><stop offset="1" stop-color="#6478c8" stop-opacity="0.22"/></linearGradient><pattern id="spc" width="64" height="64" patternUnits="userSpaceOnUse"><path d="M-8 -8L72 72" stroke="url(#sgc)" stroke-width="2.5" fill="none"/></pattern><filter id="sblc" x="-2%" y="-2%" width="104%" height="104%"><feGaussianBlur stdDeviation="1.0"/></filter><g id="bkc"><rect x="0" y="0" width="11" height="11" fill="#6a8ad0" fill-opacity="0.18"/><rect x="32" y="0" width="11" height="11" fill="#6a8ad0" fill-opacity="0.18"/><rect x="0" y="32" width="11" height="11" fill="#6a8ad0" fill-opacity="0.18"/><rect x="32" y="32" width="11" height="11" fill="#6a8ad0" fill-opacity="0.18"/></g><filter id="blc" x="-2%" y="-2%" width="104%" height="104%"><feGaussianBlur stdDeviation="1.6"/></filter></defs><rect width="640" height="640" fill="#443c98"/><g filter="url(#sblc)"><rect width="640" height="640" fill="url(#spc)"/></g><g filter="url(#blc)"><use href="#bkc" x="0" y="0"/>
<use href="#bkc" x="64" y="64"/>
<use href="#bkc" x="128" y="128"/>
<use href="#bkc" x="192" y="192"/>
<use href="#bkc" x="256" y="256"/>
<use href="#bkc" x="320" y="320"/>
<use href="#bkc" x="384" y="384"/>
<use href="#bkc" x="448" y="448"/>
<use href="#bkc" x="512" y="512"/>
<use href="#bkc" x="576" y="576"/>
<path d="M0 0L640 640" stroke="#556ec3" stroke-opacity="0.55" stroke-width="13" fill="none"/>
<path d="M0 0L640 640" stroke="#5f91d7" stroke-opacity="0.55" stroke-width="3" fill="none"/></g>
</svg>
<rect x="0.5" y="0.5" width="375.0" height="330.0" fill="none" stroke="#262626" stroke-width="1"/>
<path d="M58.80 330.5v-4M58.80 0.5v4M0.5 51.80h4M375.5 51.80h-4M117.39 330.5v-4M117.39 0.5v4M0.5 103.37h4M375.5 103.37h-4M175.99 330.5v-4M175.99 0.5v4M0.5 154.93h4M375.5 154.93h-4M234.58 330.5v-4M234.58 0.5v4M0.5 206.49h4M375.5 206.49h-4M293.18 330.5v-4M293.18 0.5v4M0.5 258.05h4M375.5 258.05h-4M351.77 330.5v-4M351.77 0.5v4M0.5 309.62h4M375.5 309.62h-4" stroke="#262626" stroke-width="1" fill="none"/>
</svg>
<svg style="left:1399.5px;top:0px" width="23" height="332">
<rect x="0.5" y="0.5" width="21.0" height="330.0" fill="url(#cbg)" stroke="#262626" stroke-width="1"/>
<path d="M21.5 290.29h-3M21.5 250.37h-3M21.5 210.46h-3M21.5 170.55h-3M21.5 130.63h-3M21.5 90.72h-3M21.5 50.81h-3M21.5 10.90h-3" stroke="#262626" stroke-width="1" fill="none"/>
</svg>
<svg style="left:0;top:0" width="1450" height="1245">
<text class="tk" x="1009.50" y="56.80" text-anchor="end">100</text>
<text class="tk" x="1073.30" y="349.00" text-anchor="middle">100</text>
<text class="tk" x="1009.50" y="108.37" text-anchor="end">200</text>
<text class="tk" x="1131.89" y="349.00" text-anchor="middle">200</text>
<text class="tk" x="1009.50" y="159.93" text-anchor="end">300</text>
<text class="tk" x="1190.49" y="349.00" text-anchor="middle">300</text>
<text class="tk" x="1009.50" y="211.49" text-anchor="end">400</text>
<text class="tk" x="1249.08" y="349.00" text-anchor="middle">400</text>
<text class="tk" x="1009.50" y="263.05" text-anchor="end">500</text>
<text class="tk" x="1307.68" y="349.00" text-anchor="middle">500</text>
<text class="tk" x="1009.50" y="314.62" text-anchor="end">600</text>
<text class="tk" x="1366.27" y="349.00" text-anchor="middle">600</text>
<text class="tk cb" x="1426.00" y="294.29">0.2</text>
<text class="tk cb" x="1426.00" y="254.37">0.4</text>
<text class="tk cb" x="1426.00" y="214.46">0.6</text>
<text class="tk cb" x="1426.00" y="174.55">0.8</text>
<text class="tk cb" x="1426.00" y="134.63">1</text>
<text class="tk cb" x="1426.00" y="94.72">1.2</text>
<text class="tk cb" x="1426.00" y="54.81">1.4</text>
<text class="tk cb" x="1426.00" y="14.90">1.6</text>
<text class="cap" x="1129.15" y="378.7" textLength="147.7" lengthAdjust="spacingAndGlyphs">(c) LMSC</text>
</svg>
<svg style="left:26px;top:427px" width="377" height="332">
<svg x="0.5" y="0.5" width="375.0" height="330.0" viewBox="0 0 640 640" preserveAspectRatio="none">
<defs><linearGradient id="sgd" x1="0" y1="0" x2="32" y2="32" gradientUnits="userSpaceOnUse" spreadMethod="repeat"><stop offset="0" stop-color="#6482d2" stop-opacity="0.0"/><stop offset="0.85" stop-color="#6482d2" stop-opacity="0.35"/><stop offset="1" stop-color="#6482d2" stop-opacity="0.35"/></linearGradient><pattern id="spd" width="64" height="64" patternUnits="userSpaceOnUse"><path d="M-8 -8L72 72" stroke="url(#sgd)" stroke-width="3.5" fill="none"/></pattern><filter id="sbld" x="-2%" y="-2%" width="104%" height="104%"><feGaussianBlur stdDeviation="1.2"/></filter><g id="bkd"><rect width="64" height="64" fill="#6a8ad0" fill-opacity="0.08"/><rect x="0" y="0" width="12" height="12" fill="#6a9ad8" fill-opacity="0.3"/><rect x="32" y="0" width="12" height="12" fill="#6a9ad8" fill-opacity="0.3"/><rect x="0" y="32" width="12" height="12" fill="#6a9ad8" fill-opacity="0.3"/><rect x="32" y="32" width="12" height="12" fill="#6a9ad8" fill-opacity="0.3"/></g><g id="sbd"><rect x="28" y="28" width="4" height="4" fill="#9cc67e"/></g><filter id="bld" x="-2%" y="-2%" width="104%" height="104%"><feGaussianBlur stdDeviation="1.2"/></filter></defs><rect width="640" height="640" fill="#46409b"/><g filter="url(#sbld)"><rect width="640" height="640" fill="url(#spd)"/></g><g filter="url(#bld)"><use href="#bkd" x="0" y="0"/>
<use href="#bkd" x="64" y="64"/>
<use href="#bkd" x="128" y="128"/>
<use href="#bkd" x="192" y="192"/>
<use href="#bkd" x="256" y="256"/>
<use href="#bkd" x="320" y="320"/>
<use href="#bkd" x="384" y="384"/>
<use href="#bkd" x="448" y="448"/>
<use href="#bkd" x="512" y="512"/>
<use href="#bkd" x="576" y="576"/>
<path d="M0 0L640 640" stroke="#5f8cd2" stroke-opacity="0.45" stroke-width="6" fill="none"/>
<path d="M0 0L640 640" stroke="#69afd2" stroke-opacity="0.9" stroke-width="1.6" fill="none"/>
<use href="#sbd" x="0" y="0"/>
<use href="#sbd" x="32" y="32"/>
<use href="#sbd" x="64" y="64"/>
<use href="#sbd" x="96" y="96"/>
<use href="#sbd" x="128" y="128"/>
<use href="#sbd" x="160" y="160"/>
<use href="#sbd" x="192" y="192"/>
<use href="#sbd" x="224" y="224"/>
<use href="#sbd" x="256" y="256"/>
<use href="#sbd" x="288" y="288"/>
<use href="#sbd" x="320" y="320"/>
<use href="#sbd" x="352" y="352"/>
<use href="#sbd" x="384" y="384"/>
<use href="#sbd" x="416" y="416"/>
<use href="#sbd" x="448" y="448"/>
<use href="#sbd" x="480" y="480"/>
<use href="#sbd" x="512" y="512"/>
<use href="#sbd" x="544" y="544"/>
<use href="#sbd" x="576" y="576"/>
<use href="#sbd" x="608" y="608"/></g>
</svg>
<rect x="0.5" y="0.5" width="375.0" height="330.0" fill="none" stroke="#262626" stroke-width="1"/>
<path d="M58.80 330.5v-4M58.80 0.5v4M0.5 51.80h4M375.5 51.80h-4M117.39 330.5v-4M117.39 0.5v4M0.5 103.37h4M375.5 103.37h-4M175.99 330.5v-4M175.99 0.5v4M0.5 154.93h4M375.5 154.93h-4M234.58 330.5v-4M234.58 0.5v4M0.5 206.49h4M375.5 206.49h-4M293.18 330.5v-4M293.18 0.5v4M0.5 258.05h4M375.5 258.05h-4M351.77 330.5v-4M351.77 0.5v4M0.5 309.62h4M375.5 309.62h-4" stroke="#262626" stroke-width="1" fill="none"/>
</svg>
<svg style="left:411.0px;top:427px" width="23" height="332">
<rect x="0.5" y="0.5" width="21.0" height="330.0" fill="url(#cbg)" stroke="#262626" stroke-width="1"/>
<path d="M21.5 287.57h-3M21.5 244.48h-3M21.5 201.40h-3M21.5 158.32h-3M21.5 115.24h-3M21.5 72.16h-3M21.5 29.08h-3" stroke="#262626" stroke-width="1" fill="none"/>
</svg>
<svg style="left:0;top:0" width="1450" height="1245">
<text class="tk" x="21.00" y="483.80" text-anchor="end">100</text>
<text class="tk" x="84.80" y="776.00" text-anchor="middle">100</text>
<text class="tk" x="21.00" y="535.37" text-anchor="end">200</text>
<text class="tk" x="143.39" y="776.00" text-anchor="middle">200</text>
<text class="tk" x="21.00" y="586.93" text-anchor="end">300</text>
<text class="tk" x="201.99" y="776.00" text-anchor="middle">300</text>
<text class="tk" x="21.00" y="638.49" text-anchor="end">400</text>
<text class="tk" x="260.58" y="776.00" text-anchor="middle">400</text>
<text class="tk" x="21.00" y="690.05" text-anchor="end">500</text>
<text class="tk" x="319.18" y="776.00" text-anchor="middle">500</text>
<text class="tk" x="21.00" y="741.62" text-anchor="end">600</text>
<text class="tk" x="377.77" y="776.00" text-anchor="middle">600</text>
<text class="tk cb" x="437.50" y="718.57">0.2</text>
<text class="tk cb" x="437.50" y="675.48">0.4</text>
<text class="tk cb" x="437.50" y="632.40">0.6</text>
<text class="tk cb" x="437.50" y="589.32">0.8</text>
<text class="tk cb" x="437.50" y="546.24">1</text>
<text class="tk cb" x="437.50" y="503.16">1.2</text>
<text class="tk cb" x="437.50" y="460.08">1.4</text>
<text class="cap" x="127.55" y="804.9" textLength="173.5" lengthAdjust="spacingAndGlyphs">(d) LTMSC</text>
</svg>
<svg style="left:520.2px;top:427.2px" width="377" height="332">
<svg x="0.5" y="0.5" width="375.0" height="330.0" viewBox="0 0 640 640" preserveAspectRatio="none">
<defs><g id="bke"><rect x="0" y="0" width="11" height="10" fill="#6aa8dc" fill-opacity="0.35"/><rect x="32" y="0" width="8" height="7" fill="#6a9ad8" fill-opacity="0.3"/><rect x="0" y="32" width="8" height="7" fill="#6a9ad8" fill-opacity="0.3"/></g><filter id="ble" x="-2%" y="-2%" width="104%" height="104%"><feGaussianBlur stdDeviation="0.9"/></filter></defs><rect width="640" height="640" fill="#443c96"/><g filter="url(#ble)"><path d="M64 0L640 576M0 64L576 640M128 0L640 512M0 128L512 640M192 0L640 448M0 192L448 640M256 0L640 384M0 256L384 640M320 0L640 320M0 320L320 640M384 0L640 256M0 384L256 640M448 0L640 192M0 448L192 640M512 0L640 128M0 512L128 640M576 0L640 64M0 576L64 640" stroke="#5f78c8" stroke-opacity="0.16" stroke-width="2" fill="none"/>
<use href="#bke" x="0" y="0"/>
<use href="#bke" x="64" y="64"/>
<use href="#bke" x="128" y="128"/>
<use href="#bke" x="192" y="192"/>
<use href="#bke" x="256" y="256"/>
<use href="#bke" x="320" y="320"/>
<use href="#bke" x="384" y="384"/>
<use href="#bke" x="448" y="448"/>
<use href="#bke" x="512" y="512"/>
<use href="#bke" x="576" y="576"/>
<path d="M0 0L640 640" stroke="#5f8cd2" stroke-opacity="0.35" stroke-width="4.5" fill="none"/>
<path d="M0 0L640 640" stroke="#5aafd7" stroke-opacity="1" stroke-width="2" fill="none"/>
<path d="M0 0L640 640" stroke="#e1a05f" stroke-opacity="1" stroke-width="2" stroke-dasharray="5 4" fill="none"/></g>
</svg>
<rect x="0.5" y="0.5" width="375.0" height="330.0" fill="none" stroke="#262626" stroke-width="1"/>
<path d="M58.80 330.5v-4M58.80 0.5v4M0.5 51.80h4M375.5 51.80h-4M117.39 330.5v-4M117.39 0.5v4M0.5 103.37h4M375.5 103.37h-4M175.99 330.5v-4M175.99 0.5v4M0.5 154.93h4M375.5 154.93h-4M234.58 330.5v-4M234.58 0.5v4M0.5 206.49h4M375.5 206.49h-4M293.18 330.5v-4M293.18 0.5v4M0.5 258.05h4M375.5 258.05h-4M351.77 330.5v-4M351.77 0.5v4M0.5 309.62h4M375.5 309.62h-4" stroke="#262626" stroke-width="1" fill="none"/>
</svg>
<svg style="left:905.2px;top:427.2px" width="23" height="332">
<rect x="0.5" y="0.5" width="21.0" height="330.0" fill="url(#cbg)" stroke="#262626" stroke-width="1"/>
<path d="M21.5 289.97h-3M21.5 249.44h-3M21.5 208.92h-3M21.5 168.40h-3M21.5 127.88h-3M21.5 87.36h-3M21.5 46.84h-3M21.5 6.32h-3" stroke="#262626" stroke-width="1" fill="none"/>
</svg>
<svg style="left:0;top:0" width="1450" height="1245">
<text class="tk" x="515.20" y="484.00" text-anchor="end">100</text>
<text class="tk" x="579.00" y="776.20" text-anchor="middle">100</text>
<text class="tk" x="515.20" y="535.57" text-anchor="end">200</text>
<text class="tk" x="637.59" y="776.20" text-anchor="middle">200</text>
<text class="tk" x="515.20" y="587.13" text-anchor="end">300</text>
<text class="tk" x="696.19" y="776.20" text-anchor="middle">300</text>
<text class="tk" x="515.20" y="638.69" text-anchor="end">400</text>
<text class="tk" x="754.78" y="776.20" text-anchor="middle">400</text>
<text class="tk" x="515.20" y="690.25" text-anchor="end">500</text>
<text class="tk" x="813.38" y="776.20" text-anchor="middle">500</text>
<text class="tk" x="515.20" y="741.82" text-anchor="end">600</text>
<text class="tk" x="871.97" y="776.20" text-anchor="middle">600</text>
<text class="tk cb" x="931.70" y="721.17">0.5</text>
<text class="tk cb" x="931.70" y="680.64">1</text>
<text class="tk cb" x="931.70" y="640.12">1.5</text>
<text class="tk cb" x="931.70" y="599.60">2</text>
<text class="tk cb" x="931.70" y="559.08">2.5</text>
<text class="tk cb" x="931.70" y="518.56">3</text>
<text class="tk cb" x="931.70" y="478.04">3.5</text>
<text class="tk cb" x="931.70" y="437.52">4</text>
<text class="cap" x="640.85" y="804.7" textLength="135.1" lengthAdjust="spacingAndGlyphs">(e) tSVD</text>
</svg>
<svg style="left:1014.5px;top:426.8px" width="377" height="332">
<svg x="0.5" y="0.5" width="375.0" height="330.0" viewBox="0 0 640 640" preserveAspectRatio="none">
<defs><linearGradient id="sgf" x1="0" y1="0" x2="32" y2="32" gradientUnits="userSpaceOnUse" spreadMethod="repeat"><stop offset="0" stop-color="#6eaae1" stop-opacity="0.1"/><stop offset="0.85" stop-color="#6eaae1" stop-opacity="0.8"/><stop offset="1" stop-color="#6eaae1" stop-opacity="0.8"/></linearGradient><pattern id="spf" width="64" height="64" patternUnits="userSpaceOnUse"><path d="M-8 -8L72 72" stroke="url(#sgf)" stroke-width="3" fill="none"/><rect x="29" y="29" width="3" height="3" fill="#96cdc8" fill-opacity="0.9"/><rect x="61" y="61" width="3" height="3" fill="#96cdc8" fill-opacity="0.9"/></pattern><filter id="sblf" x="-2%" y="-2%" width="104%" height="104%"><feGaussianBlur stdDeviation="0.7"/></filter><linearGradient id="fh" x1="0" y1="0" x2="32" y2="32" gradientUnits="userSpaceOnUse" spreadMethod="repeat"><stop offset="0" stop-color="#5fb2d4" stop-opacity="0.5"/><stop offset="1" stop-color="#5fb2d4" stop-opacity="0.85"/></linearGradient><linearGradient id="fc" x1="0" y1="0" x2="32" y2="32" gradientUnits="userSpaceOnUse" spreadMethod="repeat"><stop offset="0" stop-color="#8cc078" stop-opacity="0.85"/><stop offset="0.8" stop-color="#aac355" stop-opacity="1"/><stop offset="1" stop-color="#d7c63c" stop-opacity="1"/></linearGradient><g id="bkf"><rect width="64" height="64" fill="#6aa0dc" fill-opacity="0.16"/><path d="M0 0L64 64" stroke="#6aa8dc" stroke-opacity="0.35" stroke-width="26"/><rect x="32" y="0" width="11" height="9" fill="#78b8dc" fill-opacity="0.6"/><rect x="0" y="32" width="11" height="9" fill="#78b8dc" fill-opacity="0.6"/></g><g id="bjf"><rect x="0" y="0" width="12" height="11" fill="#b8c45a"/><rect x="33" y="33" width="8" height="8" fill="#a0c070"/></g><filter id="blf" x="-2%" y="-2%" width="104%" height="104%"><feGaussianBlur stdDeviation="1.6"/></filter></defs><rect width="640" height="640" fill="#4e53a6"/><g filter="url(#sblf)"><rect width="640" height="640" fill="url(#spf)"/></g><g filter="url(#blf)"><use href="#bkf" x="0" y="0"/>
<use href="#bkf" x="64" y="64"/>
<use href="#bkf" x="128" y="128"/>
<use href="#bkf" x="192" y="192"/>
<use href="#bkf" x="256" y="256"/>
<use href="#bkf" x="320" y="320"/>
<use href="#bkf" x="384" y="384"/>
<use href="#bkf" x="448" y="448"/>
<use href="#bkf" x="512" y="512"/>
<use href="#bkf" x="576" y="576"/>
<path d="M0 0L640 640" stroke="url(#fh)" stroke-opacity="1" stroke-width="15" fill="none"/>
<path d="M0 0L640 640" stroke="url(#fc)" stroke-opacity="1" stroke-width="5.5" fill="none"/>
<use href="#bjf" x="0" y="0"/>
<use href="#bjf" x="64" y="64"/>
<use href="#bjf" x="128" y="128"/>
<use href="#bjf" x="192" y="192"/>
<use href="#bjf" x="256" y="256"/>
<use href="#bjf" x="320" y="320"/>
<use href="#bjf" x="384" y="384"/>
<use href="#bjf" x="448" y="448"/>
<use href="#bjf" x="512" y="512"/>
<use href="#bjf" x="576" y="576"/></g>
</svg>
<rect x="0.5" y="0.5" width="375.0" height="330.0" fill="none" stroke="#262626" stroke-width="1"/>
<path d="M58.80 330.5v-4M58.80 0.5v4M0.5 51.80h4M375.5 51.80h-4M117.39 330.5v-4M117.39 0.5v4M0.5 103.37h4M375.5 103.37h-4M175.99 330.5v-4M175.99 0.5v4M0.5 154.93h4M375.5 154.93h-4M234.58 330.5v-4M234.58 0.5v4M0.5 206.49h4M375.5 206.49h-4M293.18 330.5v-4M293.18 0.5v4M0.5 258.05h4M375.5 258.05h-4M351.77 330.5v-4M351.77 0.5v4M0.5 309.62h4M375.5 309.62h-4" stroke="#262626" stroke-width="1" fill="none"/>
</svg>
<svg style="left:1399.5px;top:426.8px" width="23" height="332">
<rect x="0.5" y="0.5" width="21.0" height="330.0" fill="url(#cbg)" stroke="#262626" stroke-width="1"/>
<path d="M21.5 265.44h-3M21.5 199.96h-3M21.5 134.49h-3M21.5 69.01h-3M21.5 3.54h-3" stroke="#262626" stroke-width="1" fill="none"/>
</svg>
<svg style="left:0;top:0" width="1450" height="1245">
<text class="tk" x="1009.50" y="483.60" text-anchor="end">100</text>
<text class="tk" x="1073.30" y="775.80" text-anchor="middle">100</text>
<text class="tk" x="1009.50" y="535.17" text-anchor="end">200</text>
<text class="tk" x="1131.89" y="775.80" text-anchor="middle">200</text>
<text class="tk" x="1009.50" y="586.73" text-anchor="end">300</text>
<text class="tk" x="1190.49" y="775.80" text-anchor="middle">300</text>
<text class="tk" x="1009.50" y="638.29" text-anchor="end">400</text>
<text class="tk" x="1249.08" y="775.80" text-anchor="middle">400</text>
<text class="tk" x="1009.50" y="689.85" text-anchor="end">500</text>
<text class="tk" x="1307.68" y="775.80" text-anchor="middle">500</text>
<text class="tk" x="1009.50" y="741.42" text-anchor="end">600</text>
<text class="tk" x="1366.27" y="775.80" text-anchor="middle">600</text>
<text class="tk cb" x="1426.00" y="696.24">0.05</text>
<text class="tk cb" x="1426.00" y="630.76">0.1</text>
<text class="tk cb" x="1426.00" y="565.29">0.15</text>
<text class="tk cb" x="1426.00" y="499.81">0.2</text>
<text class="tk cb" x="1426.00" y="434.34">0.25</text>
<text class="cap" x="1124.30" y="804.8" textLength="156.2" lengthAdjust="spacingAndGlyphs">(f) LogDet</text>
</svg>
<svg style="left:26px;top:855.3px" width="377" height="332">
<svg x="0.5" y="0.5" width="375.0" height="330.0" viewBox="0 0 640 640" preserveAspectRatio="none">
<defs><linearGradient id="sgg" x1="0" y1="0" x2="32" y2="32" gradientUnits="userSpaceOnUse" spreadMethod="repeat"><stop offset="0" stop-color="#698cdc" stop-opacity="0.0"/><stop offset="0.85" stop-color="#698cdc" stop-opacity="0.55"/><stop offset="1" stop-color="#698cdc" stop-opacity="0.55"/></linearGradient><pattern id="spg" width="64" height="64" patternUnits="userSpaceOnUse"><path d="M-8 -8L72 72" stroke="url(#sgg)" stroke-width="5.5" fill="none"/></pattern><filter id="sblg" x="-2%" y="-2%" width="104%" height="104%"><feGaussianBlur stdDeviation="1.8"/></filter><linearGradient id="gd" x1="0" y1="0" x2="32" y2="32" gradientUnits="userSpaceOnUse" spreadMethod="repeat"><stop offset="0" stop-color="#6496dc" stop-opacity="0.35"/><stop offset="0.85" stop-color="#69a5e1" stop-opacity="0.9"/><stop offset="1" stop-color="#6eafe1" stop-opacity="0.95"/></linearGradient><g id="bkg"><rect width="64" height="64" fill="#6a8ad0" fill-opacity="0.10"/><rect x="0" y="0" width="18" height="15" fill="#6a9ad8" fill-opacity="0.55"/><rect x="32" y="0" width="18" height="15" fill="#6a9ad8" fill-opacity="0.55"/><rect x="0" y="32" width="18" height="15" fill="#6a9ad8" fill-opacity="0.55"/><rect x="32" y="32" width="18" height="15" fill="#6a9ad8" fill-opacity="0.55"/></g><filter id="blg" x="-2%" y="-2%" width="104%" height="104%"><feGaussianBlur stdDeviation="2.4"/></filter></defs><rect width="640" height="640" fill="#463e9a"/><g filter="url(#sblg)"><rect width="640" height="640" fill="url(#spg)"/></g><g filter="url(#blg)"><use href="#bkg" x="0" y="0"/>
<use href="#bkg" x="64" y="64"/>
<use href="#bkg" x="128" y="128"/>
<use href="#bkg" x="192" y="192"/>
<use href="#bkg" x="256" y="256"/>
<use href="#bkg" x="320" y="320"/>
<use href="#bkg" x="384" y="384"/>
<use href="#bkg" x="448" y="448"/>
<use href="#bkg" x="512" y="512"/>
<use href="#bkg" x="576" y="576"/>
<path d="M0 0L640 640" stroke="url(#gd)" stroke-opacity="1" stroke-width="12" fill="none"/></g>
</svg>
<rect x="0.5" y="0.5" width="375.0" height="330.0" fill="none" stroke="#262626" stroke-width="1"/>
<path d="M58.80 330.5v-4M58.80 0.5v4M0.5 51.80h4M375.5 51.80h-4M117.39 330.5v-4M117.39 0.5v4M0.5 103.37h4M375.5 103.37h-4M175.99 330.5v-4M175.99 0.5v4M0.5 154.93h4M375.5 154.93h-4M234.58 330.5v-4M234.58 0.5v4M0.5 206.49h4M375.5 206.49h-4M293.18 330.5v-4M293.18 0.5v4M0.5 258.05h4M375.5 258.05h-4M351.77 330.5v-4M351.77 0.5v4M0.5 309.62h4M375.5 309.62h-4" stroke="#262626" stroke-width="1" fill="none"/>
</svg>
<svg style="left:411.0px;top:855.3px" width="23" height="332">
<rect x="0.5" y="0.5" width="21.0" height="330.0" fill="url(#cbg)" stroke="#262626" stroke-width="1"/>
<path d="M21.5 283.47h-3M21.5 235.99h-3M21.5 188.50h-3M21.5 141.02h-3M21.5 93.54h-3M21.5 46.06h-3" stroke="#262626" stroke-width="1" fill="none"/>
</svg>
<svg style="left:0;top:0" width="1450" height="1245">
<text class="tk" x="21.00" y="912.10" text-anchor="end">100</text>
<text class="tk" x="84.80" y="1204.30" text-anchor="middle">100</text>
<text class="tk" x="21.00" y="963.67" text-anchor="end">200</text>
<text class="tk" x="143.39" y="1204.30" text-anchor="middle">200</text>
<text class="tk" x="21.00" y="1015.23" text-anchor="end">300</text>
<text class="tk" x="201.99" y="1204.30" text-anchor="middle">300</text>
<text class="tk" x="21.00" y="1066.79" text-anchor="end">400</text>
<text class="tk" x="260.58" y="1204.30" text-anchor="middle">400</text>
<text class="tk" x="21.00" y="1118.35" text-anchor="end">500</text>
<text class="tk" x="319.18" y="1204.30" text-anchor="middle">500</text>
<text class="tk" x="21.00" y="1169.92" text-anchor="end">600</text>
<text class="tk" x="377.77" y="1204.30" text-anchor="middle">600</text>
<text class="tk cb" x="437.50" y="1142.77">0.1</text>
<text class="tk cb" x="437.50" y="1095.29">0.2</text>
<text class="tk cb" x="437.50" y="1047.80">0.3</text>
<text class="tk cb" x="437.50" y="1000.32">0.4</text>
<text class="tk cb" x="437.50" y="952.84">0.5</text>
<text class="tk cb" x="437.50" y="905.36">0.6</text>
<text class="cap" x="99.95" y="1236.9" textLength="228.1" lengthAdjust="spacingAndGlyphs">(g) HLR-M<tspan dy="-13" font-size="24">2</tspan><tspan dy="13">VS</tspan></text>
</svg>
<svg style="left:520.3px;top:857.2px" width="377" height="332">
<svg x="0.5" y="0.5" width="375.0" height="330.0" viewBox="0 0 640 640" preserveAspectRatio="none">
<defs><g id="bkh"><rect x="32" y="0" width="9" height="7" fill="#6aa0dc" fill-opacity="0.55"/><rect x="0" y="32" width="9" height="7" fill="#6aa0dc" fill-opacity="0.55"/></g><g id="sbh"><rect x="26" y="26" width="6" height="6" fill="#b0c260"/></g><g id="sch"><polygon points="0,0 8,0 16,8 16,16 8,16 0,8" fill="#5ab4dc" fill-opacity="0.6"/><rect x="0" y="0" width="8" height="8" fill="#6cc0c8" fill-opacity="0.85"/><rect x="13" y="13" width="3" height="3" fill="#c8c858"/></g><filter id="blh" x="-2%" y="-2%" width="104%" height="104%"><feGaussianBlur stdDeviation="1.1"/></filter></defs><rect width="640" height="640" fill="#5056a8"/><g filter="url(#blh)"><path d="M32 0L640 608M0 32L608 640M64 0L640 576M0 64L576 640M96 0L640 544M0 96L544 640M128 0L640 512M0 128L512 640M160 0L640 480M0 160L480 640M192 0L640 448M0 192L448 640M224 0L640 416M0 224L416 640M256 0L640 384M0 256L384 640M288 0L640 352M0 288L352 640M320 0L640 320M0 320L320 640M352 0L640 288M0 352L288 640M384 0L640 256M0 384L256 640M416 0L640 224M0 416L224 640M448 0L640 192M0 448L192 640M480 0L640 160M0 480L160 640M512 0L640 128M0 512L128 640M544 0L640 96M0 544L96 640M576 0L640 64M0 576L64 640M608 0L640 32M0 608L32 640" stroke="#6478c8" stroke-opacity="0.15" stroke-width="2.5" fill="none"/>
<use href="#bkh" x="0" y="0"/>
<use href="#bkh" x="64" y="64"/>
<use href="#bkh" x="128" y="128"/>
<use href="#bkh" x="192" y="192"/>
<use href="#bkh" x="256" y="256"/>
<use href="#bkh" x="320" y="320"/>
<use href="#bkh" x="384" y="384"/>
<use href="#bkh" x="448" y="448"/>
<use href="#bkh" x="512" y="512"/>
<use href="#bkh" x="576" y="576"/>
<path d="M0 0L640 640" stroke="#5faad7" stroke-opacity="0.45" stroke-width="15" fill="none"/>
<path d="M0 0L640 640" stroke="#96c06e" stroke-opacity="0.9" stroke-width="2" fill="none"/>
<use href="#sbh" x="0" y="0"/>
<use href="#sbh" x="32" y="32"/>
<use href="#sbh" x="64" y="64"/>
<use href="#sbh" x="96" y="96"/>
<use href="#sbh" x="128" y="128"/>
<use href="#sbh" x="160" y="160"/>
<use href="#sbh" x="192" y="192"/>
<use href="#sbh" x="224" y="224"/>
<use href="#sbh" x="256" y="256"/>
<use href="#sbh" x="288" y="288"/>
<use href="#sbh" x="320" y="320"/>
<use href="#sbh" x="352" y="352"/>
<use href="#sbh" x="384" y="384"/>
<use href="#sbh" x="416" y="416"/>
<use href="#sbh" x="448" y="448"/>
<use href="#sbh" x="480" y="480"/>
<use href="#sbh" x="512" y="512"/>
<use href="#sbh" x="544" y="544"/>
<use href="#sbh" x="576" y="576"/>
<use href="#sbh" x="608" y="608"/>
<use href="#sch" x="0" y="0"/>
<use href="#sch" x="16" y="16"/>
<use href="#sch" x="32" y="32"/>
<use href="#sch" x="48" y="48"/>
<use href="#sch" x="64" y="64"/>
<use href="#sch" x="80" y="80"/>
<use href="#sch" x="96" y="96"/>
<use href="#sch" x="112" y="112"/>
<use href="#sch" x="128" y="128"/>
<use href="#sch" x="144" y="144"/>
<use href="#sch" x="160" y="160"/>
<use href="#sch" x="176" y="176"/>
<use href="#sch" x="192" y="192"/>
<use href="#sch" x="208" y="208"/>
<use href="#sch" x="224" y="224"/>
<use href="#sch" x="240" y="240"/>
<use href="#sch" x="256" y="256"/>
<use href="#sch" x="272" y="272"/>
<use href="#sch" x="288" y="288"/>
<use href="#sch" x="304" y="304"/>
<use href="#sch" x="320" y="320"/>
<use href="#sch" x="336" y="336"/>
<use href="#sch" x="352" y="352"/>
<use href="#sch" x="368" y="368"/>
<use href="#sch" x="384" y="384"/>
<use href="#sch" x="400" y="400"/>
<use href="#sch" x="416" y="416"/>
<use href="#sch" x="432" y="432"/>
<use href="#sch" x="448" y="448"/>
<use href="#sch" x="464" y="464"/>
<use href="#sch" x="480" y="480"/>
<use href="#sch" x="496" y="496"/>
<use href="#sch" x="512" y="512"/>
<use href="#sch" x="528" y="528"/>
<use href="#sch" x="544" y="544"/>
<use href="#sch" x="560" y="560"/>
<use href="#sch" x="576" y="576"/>
<use href="#sch" x="592" y="592"/>
<use href="#sch" x="608" y="608"/>
<use href="#sch" x="624" y="624"/></g>
</svg>
<rect x="0.5" y="0.5" width="375.0" height="330.0" fill="none" stroke="#262626" stroke-width="1"/>
<path d="M58.80 330.5v-4M58.80 0.5v4M0.5 51.80h4M375.5 51.80h-4M117.39 330.5v-4M117.39 0.5v4M0.5 103.37h4M375.5 103.37h-4M175.99 330.5v-4M175.99 0.5v4M0.5 154.93h4M375.5 154.93h-4M234.58 330.5v-4M234.58 0.5v4M0.5 206.49h4M375.5 206.49h-4M293.18 330.5v-4M293.18 0.5v4M0.5 258.05h4M375.5 258.05h-4M351.77 330.5v-4M351.77 0.5v4M0.5 309.62h4M375.5 309.62h-4" stroke="#262626" stroke-width="1" fill="none"/>
</svg>
<svg style="left:905.3px;top:857.2px" width="23" height="332">
<rect x="0.5" y="0.5" width="21.0" height="330.0" fill="url(#cbg)" stroke="#262626" stroke-width="1"/>
<path d="M21.5 304.69h-3M21.5 274.37h-3M21.5 244.05h-3M21.5 213.73h-3M21.5 183.42h-3M21.5 153.10h-3M21.5 122.78h-3M21.5 92.47h-3M21.5 62.15h-3M21.5 31.83h-3M21.5 1.52h-3" stroke="#262626" stroke-width="1" fill="none"/>
</svg>
<svg style="left:0;top:0" width="1450" height="1245">
<text class="tk" x="515.30" y="914.00" text-anchor="end">100</text>
<text class="tk" x="579.10" y="1206.20" text-anchor="middle">100</text>
<text class="tk" x="515.30" y="965.57" text-anchor="end">200</text>
<text class="tk" x="637.69" y="1206.20" text-anchor="middle">200</text>
<text class="tk" x="515.30" y="1017.13" text-anchor="end">300</text>
<text class="tk" x="696.29" y="1206.20" text-anchor="middle">300</text>
<text class="tk" x="515.30" y="1068.69" text-anchor="end">400</text>
<text class="tk" x="754.88" y="1206.20" text-anchor="middle">400</text>
<text class="tk" x="515.30" y="1120.25" text-anchor="end">500</text>
<text class="tk" x="813.48" y="1206.20" text-anchor="middle">500</text>
<text class="tk" x="515.30" y="1171.82" text-anchor="end">600</text>
<text class="tk" x="872.07" y="1206.20" text-anchor="middle">600</text>
<text class="tk cb" x="931.80" y="1165.89">0</text>
<text class="tk cb" x="931.80" y="1135.57">0.02</text>
<text class="tk cb" x="931.80" y="1105.25">0.04</text>
<text class="tk cb" x="931.80" y="1074.93">0.06</text>
<text class="tk cb" x="931.80" y="1044.62">0.08</text>
<text class="tk cb" x="931.80" y="1014.30">0.1</text>
<text class="tk cb" x="931.80" y="983.98">0.12</text>
<text class="tk cb" x="931.80" y="953.67">0.14</text>
<text class="tk cb" x="931.80" y="923.35">0.16</text>
<text class="tk cb" x="931.80" y="893.03">0.18</text>
<text class="tk cb" x="931.80" y="862.72">0.2</text>
<text class="cap" x="634.85" y="1235.5" textLength="147.1" lengthAdjust="spacingAndGlyphs">(h) GLTA</text>
</svg>
<svg style="left:1014.6px;top:855.3px" width="377" height="332">
<svg x="0.5" y="0.5" width="375.0" height="330.0" viewBox="0 0 640 640" preserveAspectRatio="none">
<defs><linearGradient id="sgi" x1="0" y1="0" x2="32" y2="32" gradientUnits="userSpaceOnUse" spreadMethod="repeat"><stop offset="0" stop-color="#6482cd" stop-opacity="0.0"/><stop offset="0.85" stop-color="#6482cd" stop-opacity="0.35"/><stop offset="1" stop-color="#6482cd" stop-opacity="0.35"/></linearGradient><pattern id="spi" width="64" height="64" patternUnits="userSpaceOnUse"><path d="M-8 -8L72 72" stroke="url(#sgi)" stroke-width="3" fill="none"/></pattern><filter id="sbli" x="-2%" y="-2%" width="104%" height="104%"><feGaussianBlur stdDeviation="1.5"/></filter><linearGradient id="ic" x1="0" y1="0" x2="1" y2="1"><stop offset="0" stop-color="#82c396" stop-opacity="0.85"/><stop offset="0.75" stop-color="#96c473" stop-opacity="0.95"/><stop offset="1" stop-color="#e1c83c" stop-opacity="1"/></linearGradient><g id="bki"><rect x="32" y="0" width="11" height="4" fill="#78b0e0" fill-opacity="0.7"/><rect x="0" y="32" width="11" height="4" fill="#78b0e0" fill-opacity="0.7"/></g><g id="sbi"><polygon points="0,0 15,0 32,17 32,32 17,32 0,15" fill="#5cb2de" fill-opacity="0.7"/><polygon points="0,0 9,0 32,23 32,32 23,32 0,9" fill="#62bcd6" fill-opacity="0.6"/><polygon points="1,1 5,1 32,28 32,32 28,32 1,5" fill="url(#ic)"/><rect x="1" y="2" width="12" height="10" fill="#8cc49a" fill-opacity="0.9"/><rect x="27" y="27" width="5" height="5" fill="#d4c85a"/></g><filter id="bli" x="-2%" y="-2%" width="104%" height="104%"><feGaussianBlur stdDeviation="1.2"/></filter></defs><rect width="640" height="640" fill="#5056a8"/><g filter="url(#sbli)"><rect width="640" height="640" fill="url(#spi)"/></g><g filter="url(#bli)"><use href="#bki" x="0" y="0"/>
<use href="#bki" x="64" y="64"/>
<use href="#bki" x="128" y="128"/>
<use href="#bki" x="192" y="192"/>
<use href="#bki" x="256" y="256"/>
<use href="#bki" x="320" y="320"/>
<use href="#bki" x="384" y="384"/>
<use href="#bki" x="448" y="448"/>
<use href="#bki" x="512" y="512"/>
<use href="#bki" x="576" y="576"/>
<use href="#sbi" x="0" y="0"/>
<use href="#sbi" x="32" y="32"/>
<use href="#sbi" x="64" y="64"/>
<use href="#sbi" x="96" y="96"/>
<use href="#sbi" x="128" y="128"/>
<use href="#sbi" x="160" y="160"/>
<use href="#sbi" x="192" y="192"/>
<use href="#sbi" x="224" y="224"/>
<use href="#sbi" x="256" y="256"/>
<use href="#sbi" x="288" y="288"/>
<use href="#sbi" x="320" y="320"/>
<use href="#sbi" x="352" y="352"/>
<use href="#sbi" x="384" y="384"/>
<use href="#sbi" x="416" y="416"/>
<use href="#sbi" x="448" y="448"/>
<use href="#sbi" x="480" y="480"/>
<use href="#sbi" x="512" y="512"/>
<use href="#sbi" x="544" y="544"/>
<use href="#sbi" x="576" y="576"/>
<use href="#sbi" x="608" y="608"/></g>
</svg>
<rect x="0.5" y="0.5" width="375.0" height="330.0" fill="none" stroke="#262626" stroke-width="1"/>
<path d="M58.80 330.5v-4M58.80 0.5v4M0.5 51.80h4M375.5 51.80h-4M117.39 330.5v-4M117.39 0.5v4M0.5 103.37h4M375.5 103.37h-4M175.99 330.5v-4M175.99 0.5v4M0.5 154.93h4M375.5 154.93h-4M234.58 330.5v-4M234.58 0.5v4M0.5 206.49h4M375.5 206.49h-4M293.18 330.5v-4M293.18 0.5v4M0.5 258.05h4M375.5 258.05h-4M351.77 330.5v-4M351.77 0.5v4M0.5 309.62h4M375.5 309.62h-4" stroke="#262626" stroke-width="1" fill="none"/>
</svg>
<svg style="left:1399.6px;top:855.3px" width="23" height="332">
<rect x="0.5" y="0.5" width="21.0" height="330.0" fill="url(#cbg)" stroke="#262626" stroke-width="1"/>
<path d="M21.5 328.95h-3M21.5 293.88h-3M21.5 258.81h-3M21.5 223.74h-3M21.5 188.67h-3M21.5 153.60h-3M21.5 118.53h-3M21.5 83.46h-3M21.5 48.40h-3M21.5 13.33h-3" stroke="#262626" stroke-width="1" fill="none"/>
</svg>
<svg style="left:0;top:0" width="1450" height="1245">
<text class="tk" x="1009.60" y="912.10" text-anchor="end">100</text>
<text class="tk" x="1073.40" y="1204.30" text-anchor="middle">100</text>
<text class="tk" x="1009.60" y="963.67" text-anchor="end">200</text>
<text class="tk" x="1131.99" y="1204.30" text-anchor="middle">200</text>
<text class="tk" x="1009.60" y="1015.23" text-anchor="end">300</text>
<text class="tk" x="1190.59" y="1204.30" text-anchor="middle">300</text>
<text class="tk" x="1009.60" y="1066.79" text-anchor="end">400</text>
<text class="tk" x="1249.18" y="1204.30" text-anchor="middle">400</text>
<text class="tk" x="1009.60" y="1118.35" text-anchor="end">500</text>
<text class="tk" x="1307.78" y="1204.30" text-anchor="middle">500</text>
<text class="tk" x="1009.60" y="1169.92" text-anchor="end">600</text>
<text class="tk" x="1366.37" y="1204.30" text-anchor="middle">600</text>
<text class="tk cb" x="1426.10" y="1188.25">-0.01</text>
<text class="tk cb" x="1426.10" y="1153.18">0</text>
<text class="tk cb" x="1426.10" y="1118.11">0.01</text>
<text class="tk cb" x="1426.10" y="1083.04">0.02</text>
<text class="tk cb" x="1426.10" y="1047.97">0.03</text>
<text class="tk cb" x="1426.10" y="1012.90">0.04</text>
<text class="tk cb" x="1426.10" y="977.83">0.05</text>
<text class="tk cb" x="1426.10" y="942.76">0.06</text>
<text class="tk cb" x="1426.10" y="907.70">0.07</text>
<text class="tk cb" x="1426.10" y="872.63">0.08</text>
<text class="cap" x="1085.10" y="1233.8" textLength="235.5" lengthAdjust="spacingAndGlyphs">(i) NMSC-MCP</text>
</svg>
</body></html>
